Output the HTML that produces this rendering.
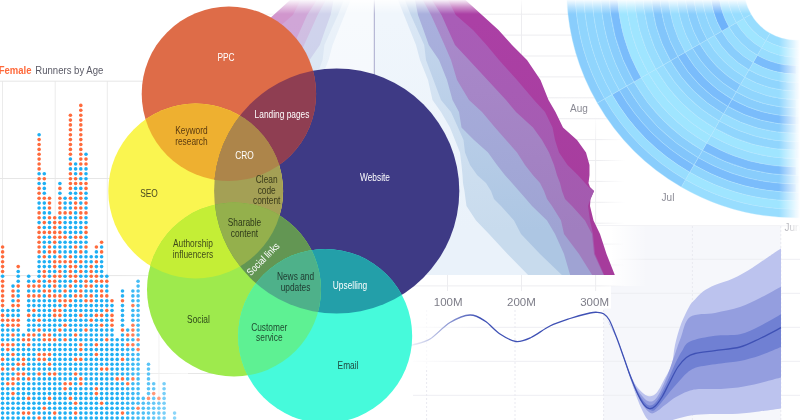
<!DOCTYPE html><html><head><meta charset="utf-8"><title>Charts</title><style>html,body{margin:0;padding:0;background:#fff}body{width:800px;height:420px;overflow:hidden;position:relative;font-family:"Liberation Sans",sans-serif}svg{display:block}text{font-family:"Liberation Sans",sans-serif}</style></head><body>
<svg width="800" height="420" viewBox="0 0 800 420">
<defs>
<linearGradient id="fadeTop" x1="0" y1="0" x2="0" y2="1"><stop offset="0" stop-color="#fff" stop-opacity="0.92"/><stop offset="0.5" stop-color="#fff" stop-opacity="0.42"/><stop offset="1" stop-color="#fff" stop-opacity="0"/></linearGradient>
<linearGradient id="fadeRight" x1="0" y1="0" x2="1" y2="0"><stop offset="0" stop-color="#fff" stop-opacity="0"/><stop offset="1" stop-color="#fff" stop-opacity="1"/></linearGradient>
<linearGradient id="fadeLeft" x1="0" y1="0" x2="1" y2="0"><stop offset="0" stop-color="#fff" stop-opacity="1"/><stop offset="1" stop-color="#fff" stop-opacity="0"/></linearGradient>
<clipPath id="c_ppc"><circle cx="228.9" cy="93.8" r="87.2"/></clipPath>
<clipPath id="c_web"><circle cx="336.7" cy="191" r="122.6"/></clipPath>
<clipPath id="c_seo"><circle cx="195.7" cy="191" r="87.4"/></clipPath>
<clipPath id="c_soc"><circle cx="234" cy="289.5" r="87"/></clipPath>
<clipPath id="c_em"><circle cx="325.2" cy="336" r="87"/></clipPath>
<clipPath id="funclip"><rect x="250" y="0" width="400" height="320"/></clipPath>
<clipPath id="funclip2"><rect x="250" y="0" width="400" height="275"/></clipPath>
<linearGradient id="gridfade" gradientUnits="userSpaceOnUse" x1="250" y1="0" x2="625" y2="0"><stop offset="0" stop-color="#ededf0"/><stop offset="0.93" stop-color="#ededf0"/><stop offset="1" stop-color="#ededf0" stop-opacity="0"/></linearGradient>
<clipPath id="polarclip"><rect x="0" y="0" width="800" height="420"/></clipPath>
</defs>
<rect width="800" height="420" fill="#fff"/>
<g id="linechart">
<rect x="603.5" y="226.5" width="177.5" height="194" fill="#f6f7fb"/>
<line x1="413" y1="225.8" x2="800" y2="225.8" stroke="#eeeef3" stroke-width="1"/>
<line x1="413" y1="259.3" x2="800" y2="259.3" stroke="#eeeef3" stroke-width="1"/>
<line x1="413" y1="293.3" x2="800" y2="293.3" stroke="#eeeef3" stroke-width="1"/>
<line x1="413" y1="327.3" x2="800" y2="327.3" stroke="#eeeef3" stroke-width="1"/>
<line x1="413" y1="361.3" x2="800" y2="361.3" stroke="#eeeef3" stroke-width="1"/>
<line x1="413" y1="395.3" x2="800" y2="395.3" stroke="#eeeef3" stroke-width="1"/>
<line x1="426.6" y1="226" x2="426.6" y2="420" stroke="#e9e9f0" stroke-width="1" stroke-dasharray="2,2"/>
<line x1="515" y1="226" x2="515" y2="420" stroke="#e9e9f0" stroke-width="1" stroke-dasharray="2,2"/>
<line x1="603.6" y1="226" x2="603.6" y2="420" stroke="#e9e9f0" stroke-width="1" stroke-dasharray="2,2"/>
<line x1="692.4" y1="226" x2="692.4" y2="420" stroke="#e9e9f0" stroke-width="1" stroke-dasharray="2,2"/>
<line x1="780.8" y1="226" x2="780.8" y2="420" stroke="#e9e9f0" stroke-width="1" stroke-dasharray="2,2"/>
<path d="M603.6,313.7C605.7,317.5 613.1,329.4 616.4,336.5C619.7,343.6 621.2,349.6 623.6,356.0C626.0,362.4 628.3,369.7 630.7,375.0C633.1,380.3 635.0,384.5 637.9,388.0C640.8,391.5 644.8,395.2 647.9,396.0C651.0,396.8 653.5,396.0 656.4,393.0C659.2,390.0 662.4,382.8 665.0,378.0C667.6,373.2 670.1,370.0 671.8,364.5C673.5,359.0 673.5,351.6 675.0,345.0C676.5,338.4 678.3,331.4 680.7,325.0C683.1,318.6 686.9,310.8 689.3,306.5C691.7,302.2 692.7,302.0 695.0,299.5C697.3,297.0 699.7,293.9 703.0,291.5C706.3,289.1 710.0,287.2 715.0,285.0C720.0,282.8 726.8,281.3 733.0,278.5C739.2,275.7 746.5,271.3 752.0,268.0C757.5,264.7 761.2,261.7 766.0,258.5C770.8,255.3 778.5,250.2 781.0,248.6L781.0,408.4C776.7,409.0 763.1,411.1 755.0,412.0C746.9,412.9 740.0,413.7 732.5,414.0C725.0,414.3 716.8,413.8 710.0,414.0C703.2,414.2 697.7,414.5 692.0,415.3C686.3,416.1 681.0,417.7 676.0,419.0C671.0,420.3 666.5,422.7 662.0,423.0C657.5,423.3 652.8,423.7 649.3,421.0C645.8,418.3 643.8,413.8 640.7,407.0C637.6,400.2 633.6,388.2 630.7,380.0C627.9,371.8 626.0,365.1 623.6,358.0C621.2,350.9 619.7,344.9 616.4,337.5C613.1,330.1 605.7,317.7 603.6,313.7Z" fill="#bcc3ee" fill-opacity="1"/>
<path d="M603.6,313.7C605.7,317.6 613.1,329.7 616.4,336.8C619.7,343.9 621.2,350.0 623.6,356.5C626.0,363.0 628.3,370.3 630.7,376.0C633.1,381.7 635.0,386.3 637.9,390.5C640.8,394.7 644.8,399.8 647.9,401.0C651.0,402.2 653.3,401.8 656.4,398.0C659.5,394.2 663.3,385.3 666.4,378.0C669.5,370.7 672.6,360.7 675.0,354.0C677.4,347.3 678.2,344.2 680.7,338.0C683.2,331.8 684.3,321.2 690.0,317.0C695.7,312.8 706.7,314.6 715.0,312.9C723.3,311.2 732.5,309.5 740.0,307.0C747.5,304.5 753.2,301.4 760.0,298.0C766.8,294.6 777.5,288.6 781.0,286.7L781.0,377.5C778.5,378.1 772.2,379.9 766.0,381.4C759.8,382.9 751.3,385.2 743.8,386.5C736.3,387.8 728.5,388.6 721.0,389.0C713.5,389.4 704.4,388.6 698.8,389.0C693.2,389.4 691.3,390.2 687.5,391.5C683.7,392.8 679.8,394.8 676.0,397.0C672.2,399.2 668.0,402.8 665.0,405.0C662.0,407.2 660.4,409.2 658.0,410.5C655.6,411.8 653.3,414.5 650.4,413.0C647.5,411.5 644.0,407.2 640.7,401.5C637.4,395.8 633.6,385.9 630.7,378.6C627.9,371.3 626.0,364.5 623.6,357.6C621.2,350.7 619.7,344.6 616.4,337.3C613.1,330.0 605.7,317.6 603.6,313.7Z" fill="#949edf" fill-opacity="1"/>
<path d="M603.6,313.7C605.7,317.6 613.1,329.7 616.4,336.9C619.7,344.1 621.2,350.2 623.6,356.8C626.0,363.4 628.3,370.6 630.7,376.6C633.1,382.6 635.0,388.1 637.9,392.8C640.8,397.5 644.8,403.6 647.9,405.0C651.0,406.4 653.3,405.1 656.4,401.5C659.5,397.9 663.3,389.8 666.4,383.5C669.5,377.2 672.4,369.4 675.0,364.0C677.6,358.6 679.5,354.8 682.0,351.0C684.5,347.2 684.5,343.9 690.0,341.4C695.5,338.8 706.7,336.9 715.0,335.7C723.3,334.5 732.5,335.9 740.0,334.3C747.5,332.7 753.2,329.3 760.0,326.0C766.8,322.7 777.5,316.2 781.0,314.3L781.0,347.0C777.5,348.4 766.8,353.2 760.0,355.5C753.2,357.8 746.5,359.7 740.0,361.0C733.5,362.3 727.9,362.4 721.0,363.4C714.1,364.4 704.4,365.3 698.8,366.8C693.2,368.3 691.3,369.4 687.5,372.4C683.7,375.4 679.8,380.5 676.0,384.8C672.2,389.1 668.0,394.4 665.0,398.0C662.0,401.6 660.2,404.4 658.0,406.5C655.8,408.6 654.4,411.7 651.5,410.6C648.6,409.5 644.2,405.5 640.7,400.0C637.2,394.5 633.6,384.9 630.7,377.8C627.9,370.7 626.0,364.1 623.6,357.3C621.2,350.5 619.7,344.4 616.4,337.1C613.1,329.8 605.7,317.6 603.6,313.7Z" fill="#7080d3" fill-opacity="1"/>
<path d="M405.0,347.0C406.2,346.7 408.3,346.3 412.5,345.0C416.7,343.7 423.8,342.8 430.0,339.0C436.2,335.2 443.3,326.5 450.0,322.5C456.7,318.5 464.2,315.2 470.0,315.0C475.8,314.8 480.0,317.8 485.0,321.0C490.0,324.2 494.8,330.6 500.0,334.0C505.2,337.4 510.8,340.9 516.0,341.5C521.2,342.1 525.3,340.1 531.0,337.5C536.7,334.9 543.5,329.2 550.0,326.0C556.5,322.8 563.3,320.7 570.0,318.5C576.7,316.3 585.5,314.0 590.0,313.0C594.5,312.0 594.7,312.2 597.0,312.3C599.3,312.4 601.6,312.4 603.6,313.7C605.6,315.0 607.2,316.1 609.3,320.0C611.4,323.9 614.0,330.8 616.4,337.0C618.8,343.2 621.2,350.3 623.6,357.0C626.0,363.7 628.3,370.8 630.7,377.0C633.1,383.2 635.8,389.8 637.9,394.3C640.0,398.9 641.7,401.9 643.6,404.3C645.5,406.7 647.4,408.3 649.3,408.6C651.2,408.9 652.9,408.2 655.0,406.3C657.1,404.4 659.6,400.9 662.0,397.0C664.4,393.1 666.6,388.0 669.3,383.0C671.9,378.0 675.0,371.2 677.9,367.0C680.8,362.8 683.5,359.8 686.4,357.5C689.2,355.2 690.2,354.6 695.0,353.5C699.8,352.4 707.5,351.7 715.0,350.6C722.5,349.5 732.5,349.0 740.0,347.0C747.5,345.0 753.2,341.7 760.0,338.5C766.8,335.3 777.5,329.5 781.0,327.7" fill="none" stroke="#3f51b5" stroke-width="1.3"/>
<rect x="405" y="300" width="75" height="70" fill="url(#fadeLeft)"/>
</g>
<g id="funnel" clip-path="url(#funclip)">
<rect x="413" y="226" width="198" height="82.5" fill="#fff"/>
<rect x="611" y="226" width="36" height="60" fill="url(#fadeLeft)"/>
<rect x="250" y="13.7" width="375" height="1" fill="url(#gridfade)"/>
<rect x="250" y="34.6" width="375" height="1" fill="url(#gridfade)"/>
<rect x="250" y="55.5" width="375" height="1" fill="url(#gridfade)"/>
<rect x="250" y="76.4" width="375" height="1" fill="url(#gridfade)"/>
<rect x="250" y="97.3" width="375" height="1" fill="url(#gridfade)"/>
<rect x="250" y="118.2" width="375" height="1" fill="url(#gridfade)"/>
<rect x="250" y="139.1" width="375" height="1" fill="url(#gridfade)"/>
<rect x="250" y="160.0" width="375" height="1" fill="url(#gridfade)"/>
<rect x="250" y="180.9" width="375" height="1" fill="url(#gridfade)"/>
<rect x="250" y="201.8" width="375" height="1" fill="url(#gridfade)"/>
<rect x="250" y="222.7" width="375" height="1" fill="url(#gridfade)"/>
<rect x="250" y="243.6" width="375" height="1" fill="url(#gridfade)"/>
<rect x="250" y="264.5" width="375" height="1" fill="url(#gridfade)"/>
<rect x="250" y="285.4" width="375" height="1" fill="url(#gridfade)"/>
<linearGradient id="vfade" gradientUnits="userSpaceOnUse" x1="0" y1="115" x2="0" y2="145"><stop offset="0" stop-color="#ededf0" stop-opacity="0"/><stop offset="1" stop-color="#ededf0"/></linearGradient>
<line x1="447.5" y1="0" x2="447.5" y2="291" stroke="#ededf0" stroke-width="1"/>
<line x1="521.5" y1="0" x2="521.5" y2="291" stroke="#ededf0" stroke-width="1"/>
<rect x="595.1" y="115" width="1" height="176" fill="url(#vfade)"/>
<defs><linearGradient id="fl0" gradientUnits="userSpaceOnUse" x1="0" y1="20" x2="0" y2="230"><stop offset="0" stop-color="#f0f6fc"/><stop offset="1" stop-color="#eaf2fa"/></linearGradient><linearGradient id="fl1" gradientUnits="userSpaceOnUse" x1="0" y1="20" x2="0" y2="230"><stop offset="0" stop-color="#dae7f5"/><stop offset="1" stop-color="#c8dbed"/></linearGradient><linearGradient id="fl2" gradientUnits="userSpaceOnUse" x1="0" y1="20" x2="0" y2="230"><stop offset="0" stop-color="#c4d6ec"/><stop offset="1" stop-color="#adc6e3"/></linearGradient><linearGradient id="fl3" gradientUnits="userSpaceOnUse" x1="0" y1="20" x2="0" y2="230"><stop offset="0" stop-color="#a9b0dd"/><stop offset="1" stop-color="#9fa3d3"/></linearGradient><linearGradient id="fl4" gradientUnits="userSpaceOnUse" x1="0" y1="20" x2="0" y2="230"><stop offset="0" stop-color="#a98acb"/><stop offset="1" stop-color="#a07ebf"/></linearGradient><linearGradient id="fl5" gradientUnits="userSpaceOnUse" x1="0" y1="20" x2="0" y2="230"><stop offset="0" stop-color="#a95db7"/><stop offset="1" stop-color="#a35aae"/></linearGradient><linearGradient id="fl6" gradientUnits="userSpaceOnUse" x1="0" y1="20" x2="0" y2="230"><stop offset="0" stop-color="#ab40a5"/><stop offset="1" stop-color="#a63c9c"/></linearGradient></defs>
<path d="M465.5,0.0 L482.0,15.0 L498.5,30.0 L512.0,45.0 L527.0,60.0 L540.5,80.0 L548.5,100.0 L555.5,112.0 L563.0,127.5 L577.0,140.0 L586.0,152.6 L589.5,165.0 L589.5,175.2 L588.5,183.0 L590.0,187.0 L594.0,191.0 L590.5,199.0 L590.0,206.0 L593.5,220.5 L600.0,234.0 L606.5,254.0 L616.0,278.0 L132.6,278.0 L142.1,254.0 L148.6,234.0 L155.1,220.5 L158.6,206.0 L158.1,199.0 L154.6,191.0 L158.6,187.0 L160.1,183.0 L159.1,175.2 L159.1,165.0 L162.6,152.6 L171.6,140.0 L185.6,127.5 L193.1,112.0 L200.1,100.0 L208.1,80.0 L221.6,60.0 L243.6,45.0 L257.1,30.0 L273.6,15.0 L290.1,0.0Z" fill="url(#fl6)" clip-path="url(#funclip2)"/>
<path d="M448.0,0.0 L455.8,15.0 L473.0,30.0 L486.5,45.0 L499.0,60.0 L517.0,80.0 L534.0,100.0 L545.0,112.0 L552.5,127.5 L555.0,140.0 L559.0,152.6 L567.5,165.0 L578.0,175.2 L585.0,183.0 L588.5,187.0 L594.0,191.0 L590.5,199.0 L588.0,206.0 L590.0,220.5 L593.0,234.0 L595.0,254.0 L605.5,278.0 L143.1,278.0 L153.6,254.0 L155.6,234.0 L158.6,220.5 L160.6,206.0 L158.1,199.0 L154.6,191.0 L160.1,187.0 L163.6,183.0 L170.6,175.2 L181.1,165.0 L189.6,152.6 L193.6,140.0 L196.1,127.5 L203.6,112.0 L214.6,100.0 L231.6,80.0 L249.6,60.0 L262.1,45.0 L275.6,30.0 L292.9,15.0 L300.6,0.0Z" fill="url(#fl5)" clip-path="url(#funclip2)"/>
<path d="M431.8,0.0 L441.5,15.0 L448.2,30.0 L455.0,45.0 L469.0,60.0 L487.5,80.0 L506.0,100.0 L516.0,112.0 L533.0,127.5 L542.0,140.0 L549.0,152.6 L554.0,165.0 L557.0,175.2 L560.0,183.0 L561.0,187.0 L562.0,191.0 L565.0,199.0 L572.0,206.0 L585.0,220.5 L592.0,234.0 L594.0,254.0 L605.0,278.0 L143.6,278.0 L154.6,254.0 L156.6,234.0 L163.6,220.5 L176.6,206.0 L183.6,199.0 L186.6,191.0 L187.6,187.0 L188.6,183.0 L191.6,175.2 L194.6,165.0 L199.6,152.6 L206.6,140.0 L215.6,127.5 L232.6,112.0 L242.6,100.0 L261.1,80.0 L279.6,60.0 L293.6,45.0 L300.4,30.0 L307.1,15.0 L316.9,0.0Z" fill="url(#fl4)" clip-path="url(#funclip2)"/>
<path d="M422.8,0.0 L431.0,15.0 L437.8,30.0 L444.5,45.0 L451.0,60.0 L457.0,80.0 L469.0,100.0 L482.0,112.0 L495.0,127.5 L506.0,140.0 L517.0,152.6 L525.0,165.0 L533.0,175.2 L540.0,183.0 L542.0,187.0 L544.0,191.0 L547.0,199.0 L552.0,206.0 L561.0,220.5 L564.0,234.0 L579.0,254.0 L594.0,278.0 L154.6,278.0 L169.6,254.0 L184.6,234.0 L187.6,220.5 L196.6,206.0 L201.6,199.0 L204.6,191.0 L206.6,187.0 L208.6,183.0 L215.6,175.2 L223.6,165.0 L231.6,152.6 L242.6,140.0 L253.6,127.5 L266.6,112.0 L279.6,100.0 L291.6,80.0 L297.6,60.0 L304.1,45.0 L310.9,30.0 L317.6,15.0 L325.9,0.0Z" fill="url(#fl3)" clip-path="url(#funclip2)"/>
<path d="M415.0,0.0 L418.0,15.0 L423.5,30.0 L428.8,45.0 L439.0,60.0 L447.0,80.0 L452.5,100.0 L459.0,112.0 L461.5,127.5 L474.0,140.0 L488.0,152.6 L497.0,165.0 L505.0,175.2 L512.0,183.0 L515.5,187.0 L519.0,191.0 L526.0,199.0 L532.0,206.0 L547.0,220.5 L555.0,234.0 L564.0,254.0 L571.0,278.0 L177.6,278.0 L184.6,254.0 L193.6,234.0 L201.6,220.5 L216.6,206.0 L222.6,199.0 L229.6,191.0 L233.1,187.0 L236.6,183.0 L243.6,175.2 L251.6,165.0 L260.6,152.6 L274.6,140.0 L287.1,127.5 L289.6,112.0 L296.1,100.0 L301.6,80.0 L309.6,60.0 L319.9,45.0 L325.1,30.0 L330.6,15.0 L333.6,0.0Z" fill="url(#fl2)" clip-path="url(#funclip2)"/>
<path d="M404.8,0.0 L410.8,15.0 L417.5,30.0 L424.2,45.0 L426.0,60.0 L433.5,80.0 L441.0,100.0 L451.0,112.0 L458.0,127.5 L463.5,140.0 L465.0,152.6 L470.0,165.0 L477.3,175.2 L486.0,183.0 L488.5,187.0 L491.0,191.0 L494.0,199.0 L501.0,206.0 L514.0,220.5 L521.0,234.0 L540.0,254.0 L565.0,278.0 L183.6,278.0 L208.6,254.0 L227.6,234.0 L234.6,220.5 L247.6,206.0 L254.6,199.0 L257.6,191.0 L260.1,187.0 L262.6,183.0 L271.3,175.2 L278.6,165.0 L283.6,152.6 L285.1,140.0 L290.6,127.5 L297.6,112.0 L307.6,100.0 L315.1,80.0 L322.6,60.0 L324.4,45.0 L331.1,30.0 L337.9,15.0 L343.9,0.0Z" fill="url(#fl1)" clip-path="url(#funclip2)"/>
<path d="M398.0,0.0 L404.0,15.0 L410.0,30.0 L416.0,45.0 L420.0,60.0 L428.0,80.0 L432.5,100.0 L441.0,112.0 L450.0,127.5 L455.0,140.0 L460.0,152.6 L461.5,165.0 L462.5,175.2 L463.0,183.0 L463.7,187.0 L464.5,191.0 L465.5,199.0 L466.5,206.0 L476.0,220.5 L489.0,234.0 L507.5,254.0 L531.0,278.0 L217.6,278.0 L241.1,254.0 L259.6,234.0 L272.6,220.5 L282.1,206.0 L283.1,199.0 L284.1,191.0 L284.9,187.0 L285.6,183.0 L286.1,175.2 L287.1,165.0 L288.6,152.6 L293.6,140.0 L298.6,127.5 L307.6,112.0 L316.1,100.0 L320.6,80.0 L328.6,60.0 L332.6,45.0 L338.6,30.0 L344.6,15.0 L350.6,0.0Z" fill="url(#fl0)" clip-path="url(#funclip2)"/>
<rect x="240" y="0" width="134.3" height="276" fill="#fff" fill-opacity="0.45"/>
<line x1="374.3" y1="0" x2="374.3" y2="276" stroke="#a9a9cc" stroke-width="1"/>
<rect x="240" y="0" width="400" height="14" fill="url(#fadeTop)"/>
<text x="448.2" y="306.3" font-size="11.5" fill="#7d7d88" text-anchor="middle">100M</text>
<text x="521.4" y="306.3" font-size="11.5" fill="#7d7d88" text-anchor="middle">200M</text>
<text x="594.6" y="306.3" font-size="11.5" fill="#7d7d88" text-anchor="middle">300M</text>
</g>
<g id="polar">
<path d="M826.2,40.6A60.4,60.4 0 0 1 796.0,48.7L796.0,40.3A52.0,52.0 0 0 0 822.0,33.3Z" fill="#98ddfe" stroke="#b8e8ff" stroke-width="0.35"/>
<path d="M830.4,48.0A68.9,68.9 0 0 1 796.0,57.2L796.0,48.7A60.4,60.4 0 0 0 826.2,40.6Z" fill="#98ddfe" stroke="#b8e8ff" stroke-width="0.35"/>
<path d="M834.7,55.3A77.3,77.3 0 0 1 796.0,65.6L796.0,57.2A68.9,68.9 0 0 0 830.4,48.0Z" fill="#98ddfe" stroke="#b8e8ff" stroke-width="0.35"/>
<path d="M838.9,62.6A85.8,85.8 0 0 1 796.0,74.1L796.0,65.6A77.3,77.3 0 0 0 834.7,55.3Z" fill="#90d5fd" stroke="#b8e8ff" stroke-width="0.35"/>
<path d="M843.1,69.9A94.2,94.2 0 0 1 796.0,82.5L796.0,74.1A85.8,85.8 0 0 0 838.9,62.6Z" fill="#98ddfe" stroke="#b8e8ff" stroke-width="0.35"/>
<path d="M847.3,77.2A102.7,102.7 0 0 1 796.0,91.0L796.0,82.5A94.2,94.2 0 0 0 843.1,69.9Z" fill="#89cdfc" stroke="#b8e8ff" stroke-width="0.35"/>
<path d="M851.6,84.5A111.1,111.1 0 0 1 796.0,99.4L796.0,91.0A102.7,102.7 0 0 0 847.3,77.2Z" fill="#90d5fd" stroke="#b8e8ff" stroke-width="0.35"/>
<path d="M855.8,91.9A119.6,119.6 0 0 1 796.0,107.9L796.0,99.4A111.1,111.1 0 0 0 851.6,84.5Z" fill="#9fe5ff" stroke="#b8e8ff" stroke-width="0.35"/>
<path d="M860.0,99.2A128.0,128.0 0 0 1 796.0,116.3L796.0,107.9A119.6,119.6 0 0 0 855.8,91.9Z" fill="#98ddfe" stroke="#b8e8ff" stroke-width="0.35"/>
<path d="M864.2,106.5A136.5,136.5 0 0 1 796.0,124.8L796.0,116.3A128.0,128.0 0 0 0 860.0,99.2Z" fill="#82c5fb" stroke="#b8e8ff" stroke-width="0.35"/>
<path d="M868.5,113.8A144.9,144.9 0 0 1 796.0,133.2L796.0,124.8A136.5,136.5 0 0 0 864.2,106.5Z" fill="#90d5fd" stroke="#b8e8ff" stroke-width="0.35"/>
<path d="M872.7,121.1A153.4,153.4 0 0 1 796.0,141.7L796.0,133.2A144.9,144.9 0 0 0 868.5,113.8Z" fill="#98ddfe" stroke="#b8e8ff" stroke-width="0.35"/>
<path d="M876.9,128.4A161.8,161.8 0 0 1 796.0,150.1L796.0,141.7A153.4,153.4 0 0 0 872.7,121.1Z" fill="#89cdfc" stroke="#b8e8ff" stroke-width="0.35"/>
<path d="M881.1,135.8A170.3,170.3 0 0 1 796.0,158.6L796.0,150.1A161.8,161.8 0 0 0 876.9,128.4Z" fill="#90d5fd" stroke="#b8e8ff" stroke-width="0.35"/>
<path d="M885.4,143.1A178.7,178.7 0 0 1 796.0,167.0L796.0,158.6A170.3,170.3 0 0 0 881.1,135.8Z" fill="#9fe5ff" stroke="#b8e8ff" stroke-width="0.35"/>
<path d="M889.6,150.4A187.2,187.2 0 0 1 796.0,175.5L796.0,167.0A178.7,178.7 0 0 0 885.4,143.1Z" fill="#98ddfe" stroke="#b8e8ff" stroke-width="0.35"/>
<path d="M893.8,157.7A195.6,195.6 0 0 1 796.0,183.9L796.0,175.5A187.2,187.2 0 0 0 889.6,150.4Z" fill="#82c5fb" stroke="#b8e8ff" stroke-width="0.35"/>
<path d="M898.0,165.0A204.1,204.1 0 0 1 796.0,192.4L796.0,183.9A195.6,195.6 0 0 0 893.8,157.7Z" fill="#90d5fd" stroke="#b8e8ff" stroke-width="0.35"/>
<path d="M902.3,172.3A212.5,212.5 0 0 1 796.0,200.8L796.0,192.4A204.1,204.1 0 0 0 898.0,165.0Z" fill="#89cdfc" stroke="#b8e8ff" stroke-width="0.35"/>
<path d="M906.5,179.7A221.0,221.0 0 0 1 796.0,209.3L796.0,200.8A212.5,212.5 0 0 0 902.3,172.3Z" fill="#98ddfe" stroke="#b8e8ff" stroke-width="0.35"/>
<path d="M910.7,187.0A229.4,229.4 0 0 1 796.0,217.7L796.0,209.3A221.0,221.0 0 0 0 906.5,179.7Z" fill="#90d5fd" stroke="#b8e8ff" stroke-width="0.35"/>
<path d="M796.0,48.7A60.4,60.4 0 0 1 765.8,40.6L770.0,33.3A52.0,52.0 0 0 0 796.0,40.3Z" fill="#98ddfe" stroke="#b8e8ff" stroke-width="0.35"/>
<path d="M796.0,57.2A68.9,68.9 0 0 1 761.6,48.0L765.8,40.6A60.4,60.4 0 0 0 796.0,48.7Z" fill="#9fe5ff" stroke="#b8e8ff" stroke-width="0.35"/>
<path d="M796.0,65.6A77.3,77.3 0 0 1 757.3,55.3L761.6,48.0A68.9,68.9 0 0 0 796.0,57.2Z" fill="#98ddfe" stroke="#b8e8ff" stroke-width="0.35"/>
<path d="M796.0,74.1A85.8,85.8 0 0 1 753.1,62.6L757.3,55.3A77.3,77.3 0 0 0 796.0,65.6Z" fill="#7abcfb" stroke="#b8e8ff" stroke-width="0.35"/>
<path d="M796.0,82.5A94.2,94.2 0 0 1 748.9,69.9L753.1,62.6A85.8,85.8 0 0 0 796.0,74.1Z" fill="#98ddfe" stroke="#b8e8ff" stroke-width="0.35"/>
<path d="M796.0,91.0A102.7,102.7 0 0 1 744.7,77.2L748.9,69.9A94.2,94.2 0 0 0 796.0,82.5Z" fill="#90d5fd" stroke="#b8e8ff" stroke-width="0.35"/>
<path d="M796.0,99.4A111.1,111.1 0 0 1 740.4,84.5L744.7,77.2A102.7,102.7 0 0 0 796.0,91.0Z" fill="#98ddfe" stroke="#b8e8ff" stroke-width="0.35"/>
<path d="M796.0,107.9A119.6,119.6 0 0 1 736.2,91.9L740.4,84.5A111.1,111.1 0 0 0 796.0,99.4Z" fill="#90d5fd" stroke="#b8e8ff" stroke-width="0.35"/>
<path d="M796.0,116.3A128.0,128.0 0 0 1 732.0,99.2L736.2,91.9A119.6,119.6 0 0 0 796.0,107.9Z" fill="#89cdfc" stroke="#b8e8ff" stroke-width="0.35"/>
<path d="M796.0,124.8A136.5,136.5 0 0 1 727.8,106.5L732.0,99.2A128.0,128.0 0 0 0 796.0,116.3Z" fill="#7abcfb" stroke="#b8e8ff" stroke-width="0.35"/>
<path d="M796.0,133.2A144.9,144.9 0 0 1 723.5,113.8L727.8,106.5A136.5,136.5 0 0 0 796.0,124.8Z" fill="#89cdfc" stroke="#b8e8ff" stroke-width="0.35"/>
<path d="M796.0,141.7A153.4,153.4 0 0 1 719.3,121.1L723.5,113.8A144.9,144.9 0 0 0 796.0,133.2Z" fill="#98ddfe" stroke="#b8e8ff" stroke-width="0.35"/>
<path d="M796.0,150.1A161.8,161.8 0 0 1 715.1,128.4L719.3,121.1A153.4,153.4 0 0 0 796.0,141.7Z" fill="#90d5fd" stroke="#b8e8ff" stroke-width="0.35"/>
<path d="M796.0,158.6A170.3,170.3 0 0 1 710.9,135.8L715.1,128.4A161.8,161.8 0 0 0 796.0,150.1Z" fill="#9fe5ff" stroke="#b8e8ff" stroke-width="0.35"/>
<path d="M796.0,167.0A178.7,178.7 0 0 1 706.6,143.1L710.9,135.8A170.3,170.3 0 0 0 796.0,158.6Z" fill="#98ddfe" stroke="#b8e8ff" stroke-width="0.35"/>
<path d="M796.0,175.5A187.2,187.2 0 0 1 702.4,150.4L706.6,143.1A178.7,178.7 0 0 0 796.0,167.0Z" fill="#7abcfb" stroke="#b8e8ff" stroke-width="0.35"/>
<path d="M796.0,183.9A195.6,195.6 0 0 1 698.2,157.7L702.4,150.4A187.2,187.2 0 0 0 796.0,175.5Z" fill="#89cdfc" stroke="#b8e8ff" stroke-width="0.35"/>
<path d="M796.0,192.4A204.1,204.1 0 0 1 694.0,165.0L698.2,157.7A195.6,195.6 0 0 0 796.0,183.9Z" fill="#7abcfb" stroke="#b8e8ff" stroke-width="0.35"/>
<path d="M796.0,200.8A212.5,212.5 0 0 1 689.7,172.3L694.0,165.0A204.1,204.1 0 0 0 796.0,192.4Z" fill="#90d5fd" stroke="#b8e8ff" stroke-width="0.35"/>
<path d="M796.0,209.3A221.0,221.0 0 0 1 685.5,179.7L689.7,172.3A212.5,212.5 0 0 0 796.0,200.8Z" fill="#9fe5ff" stroke="#b8e8ff" stroke-width="0.35"/>
<path d="M796.0,217.7A229.4,229.4 0 0 1 681.3,187.0L685.5,179.7A221.0,221.0 0 0 0 796.0,209.3Z" fill="#98ddfe" stroke="#b8e8ff" stroke-width="0.35"/>
<path d="M765.8,40.6A60.4,60.4 0 0 1 743.7,18.5L751.0,14.3A52.0,52.0 0 0 0 770.0,33.3Z" fill="#98ddfe" stroke="#b8e8ff" stroke-width="0.35"/>
<path d="M761.6,48.0A68.9,68.9 0 0 1 736.3,22.7L743.7,18.5A60.4,60.4 0 0 0 765.8,40.6Z" fill="#9fe5ff" stroke="#b8e8ff" stroke-width="0.35"/>
<path d="M757.3,55.3A77.3,77.3 0 0 1 729.0,27.0L736.3,22.7A68.9,68.9 0 0 0 761.6,48.0Z" fill="#90d5fd" stroke="#b8e8ff" stroke-width="0.35"/>
<path d="M753.1,62.6A85.8,85.8 0 0 1 721.7,31.2L729.0,27.0A77.3,77.3 0 0 0 757.3,55.3Z" fill="#98ddfe" stroke="#b8e8ff" stroke-width="0.35"/>
<path d="M748.9,69.9A94.2,94.2 0 0 1 714.4,35.4L721.7,31.2A85.8,85.8 0 0 0 753.1,62.6Z" fill="#89cdfc" stroke="#b8e8ff" stroke-width="0.35"/>
<path d="M744.7,77.2A102.7,102.7 0 0 1 707.1,39.6L714.4,35.4A94.2,94.2 0 0 0 748.9,69.9Z" fill="#98ddfe" stroke="#b8e8ff" stroke-width="0.35"/>
<path d="M740.4,84.5A111.1,111.1 0 0 1 699.8,43.9L707.1,39.6A102.7,102.7 0 0 0 744.7,77.2Z" fill="#90d5fd" stroke="#b8e8ff" stroke-width="0.35"/>
<path d="M736.2,91.9A119.6,119.6 0 0 1 692.4,48.1L699.8,43.9A111.1,111.1 0 0 0 740.4,84.5Z" fill="#82c5fb" stroke="#b8e8ff" stroke-width="0.35"/>
<path d="M732.0,99.2A128.0,128.0 0 0 1 685.1,52.3L692.4,48.1A119.6,119.6 0 0 0 736.2,91.9Z" fill="#89cdfc" stroke="#b8e8ff" stroke-width="0.35"/>
<path d="M727.8,106.5A136.5,136.5 0 0 1 677.8,56.5L685.1,52.3A128.0,128.0 0 0 0 732.0,99.2Z" fill="#7abcfb" stroke="#b8e8ff" stroke-width="0.35"/>
<path d="M723.5,113.8A144.9,144.9 0 0 1 670.5,60.8L677.8,56.5A136.5,136.5 0 0 0 727.8,106.5Z" fill="#82c5fb" stroke="#b8e8ff" stroke-width="0.35"/>
<path d="M719.3,121.1A153.4,153.4 0 0 1 663.2,65.0L670.5,60.8A144.9,144.9 0 0 0 723.5,113.8Z" fill="#90d5fd" stroke="#b8e8ff" stroke-width="0.35"/>
<path d="M715.1,128.4A161.8,161.8 0 0 1 655.9,69.2L663.2,65.0A153.4,153.4 0 0 0 719.3,121.1Z" fill="#98ddfe" stroke="#b8e8ff" stroke-width="0.35"/>
<path d="M710.9,135.8A170.3,170.3 0 0 1 648.5,73.4L655.9,69.2A161.8,161.8 0 0 0 715.1,128.4Z" fill="#9fe5ff" stroke="#b8e8ff" stroke-width="0.35"/>
<path d="M706.6,143.1A178.7,178.7 0 0 1 641.2,77.7L648.5,73.4A170.3,170.3 0 0 0 710.9,135.8Z" fill="#9fe5ff" stroke="#b8e8ff" stroke-width="0.35"/>
<path d="M702.4,150.4A187.2,187.2 0 0 1 633.9,81.9L641.2,77.7A178.7,178.7 0 0 0 706.6,143.1Z" fill="#98ddfe" stroke="#b8e8ff" stroke-width="0.35"/>
<path d="M698.2,157.7A195.6,195.6 0 0 1 626.6,86.1L633.9,81.9A187.2,187.2 0 0 0 702.4,150.4Z" fill="#89cdfc" stroke="#b8e8ff" stroke-width="0.35"/>
<path d="M694.0,165.0A204.1,204.1 0 0 1 619.3,90.3L626.6,86.1A195.6,195.6 0 0 0 698.2,157.7Z" fill="#82c5fb" stroke="#b8e8ff" stroke-width="0.35"/>
<path d="M689.7,172.3A212.5,212.5 0 0 1 612.0,94.6L619.3,90.3A204.1,204.1 0 0 0 694.0,165.0Z" fill="#7abcfb" stroke="#b8e8ff" stroke-width="0.35"/>
<path d="M685.5,179.7A221.0,221.0 0 0 1 604.6,98.8L612.0,94.6A212.5,212.5 0 0 0 689.7,172.3Z" fill="#98ddfe" stroke="#b8e8ff" stroke-width="0.35"/>
<path d="M681.3,187.0A229.4,229.4 0 0 1 597.3,103.0L604.6,98.8A221.0,221.0 0 0 0 685.5,179.7Z" fill="#89cdfc" stroke="#b8e8ff" stroke-width="0.35"/>
<path d="M743.7,18.5A60.4,60.4 0 0 1 735.6,-11.7L744.0,-11.7A52.0,52.0 0 0 0 751.0,14.3Z" fill="#98ddfe" stroke="#b8e8ff" stroke-width="0.35"/>
<path d="M736.3,22.7A68.9,68.9 0 0 1 727.1,-11.7L735.6,-11.7A60.4,60.4 0 0 0 743.7,18.5Z" fill="#98ddfe" stroke="#b8e8ff" stroke-width="0.35"/>
<path d="M729.0,27.0A77.3,77.3 0 0 1 718.7,-11.7L727.1,-11.7A68.9,68.9 0 0 0 736.3,22.7Z" fill="#98ddfe" stroke="#b8e8ff" stroke-width="0.35"/>
<path d="M721.7,31.2A85.8,85.8 0 0 1 710.2,-11.7L718.7,-11.7A77.3,77.3 0 0 0 729.0,27.0Z" fill="#6fb2fa" stroke="#b8e8ff" stroke-width="0.35"/>
<path d="M714.4,35.4A94.2,94.2 0 0 1 701.8,-11.7L710.2,-11.7A85.8,85.8 0 0 0 721.7,31.2Z" fill="#90d5fd" stroke="#b8e8ff" stroke-width="0.35"/>
<path d="M707.1,39.6A102.7,102.7 0 0 1 693.3,-11.7L701.8,-11.7A94.2,94.2 0 0 0 714.4,35.4Z" fill="#90d5fd" stroke="#b8e8ff" stroke-width="0.35"/>
<path d="M699.8,43.9A111.1,111.1 0 0 1 684.9,-11.7L693.3,-11.7A102.7,102.7 0 0 0 707.1,39.6Z" fill="#89cdfc" stroke="#b8e8ff" stroke-width="0.35"/>
<path d="M692.4,48.1A119.6,119.6 0 0 1 676.4,-11.7L684.9,-11.7A111.1,111.1 0 0 0 699.8,43.9Z" fill="#90d5fd" stroke="#b8e8ff" stroke-width="0.35"/>
<path d="M685.1,52.3A128.0,128.0 0 0 1 668.0,-11.7L676.4,-11.7A119.6,119.6 0 0 0 692.4,48.1Z" fill="#98ddfe" stroke="#b8e8ff" stroke-width="0.35"/>
<path d="M677.8,56.5A136.5,136.5 0 0 1 659.5,-11.7L668.0,-11.7A128.0,128.0 0 0 0 685.1,52.3Z" fill="#89cdfc" stroke="#b8e8ff" stroke-width="0.35"/>
<path d="M670.5,60.8A144.9,144.9 0 0 1 651.1,-11.7L659.5,-11.7A136.5,136.5 0 0 0 677.8,56.5Z" fill="#82c5fb" stroke="#b8e8ff" stroke-width="0.35"/>
<path d="M663.2,65.0A153.4,153.4 0 0 1 642.6,-11.7L651.1,-11.7A144.9,144.9 0 0 0 670.5,60.8Z" fill="#90d5fd" stroke="#b8e8ff" stroke-width="0.35"/>
<path d="M655.9,69.2A161.8,161.8 0 0 1 634.2,-11.7L642.6,-11.7A153.4,153.4 0 0 0 663.2,65.0Z" fill="#98ddfe" stroke="#b8e8ff" stroke-width="0.35"/>
<path d="M648.5,73.4A170.3,170.3 0 0 1 625.7,-11.7L634.2,-11.7A161.8,161.8 0 0 0 655.9,69.2Z" fill="#9fe5ff" stroke="#b8e8ff" stroke-width="0.35"/>
<path d="M641.2,77.7A178.7,178.7 0 0 1 617.3,-11.7L625.7,-11.7A170.3,170.3 0 0 0 648.5,73.4Z" fill="#9fe5ff" stroke="#b8e8ff" stroke-width="0.35"/>
<path d="M633.9,81.9A187.2,187.2 0 0 1 608.8,-11.7L617.3,-11.7A178.7,178.7 0 0 0 641.2,77.7Z" fill="#7abcfb" stroke="#b8e8ff" stroke-width="0.35"/>
<path d="M626.6,86.1A195.6,195.6 0 0 1 600.4,-11.7L608.8,-11.7A187.2,187.2 0 0 0 633.9,81.9Z" fill="#89cdfc" stroke="#b8e8ff" stroke-width="0.35"/>
<path d="M619.3,90.3A204.1,204.1 0 0 1 591.9,-11.7L600.4,-11.7A195.6,195.6 0 0 0 626.6,86.1Z" fill="#90d5fd" stroke="#b8e8ff" stroke-width="0.35"/>
<path d="M612.0,94.6A212.5,212.5 0 0 1 583.5,-11.7L591.9,-11.7A204.1,204.1 0 0 0 619.3,90.3Z" fill="#90d5fd" stroke="#b8e8ff" stroke-width="0.35"/>
<path d="M604.6,98.8A221.0,221.0 0 0 1 575.0,-11.7L583.5,-11.7A212.5,212.5 0 0 0 612.0,94.6Z" fill="#90d5fd" stroke="#b8e8ff" stroke-width="0.35"/>
<path d="M597.3,103.0A229.4,229.4 0 0 1 566.6,-11.7L575.0,-11.7A221.0,221.0 0 0 0 604.6,98.8Z" fill="#89cdfc" stroke="#b8e8ff" stroke-width="0.35"/>
<path d="M735.6,-11.7A60.4,60.4 0 0 1 743.7,-41.9L751.0,-37.7A52.0,52.0 0 0 0 744.0,-11.7Z" fill="#98ddfe" stroke="#b8e8ff" stroke-width="0.35"/>
<path d="M727.1,-11.7A68.9,68.9 0 0 1 736.3,-46.1L743.7,-41.9A60.4,60.4 0 0 0 735.6,-11.7Z" fill="#98ddfe" stroke="#b8e8ff" stroke-width="0.35"/>
<path d="M718.7,-11.7A77.3,77.3 0 0 1 729.0,-50.4L736.3,-46.1A68.9,68.9 0 0 0 727.1,-11.7Z" fill="#90d5fd" stroke="#b8e8ff" stroke-width="0.35"/>
<path d="M710.2,-11.7A85.8,85.8 0 0 1 721.7,-54.6L729.0,-50.4A77.3,77.3 0 0 0 718.7,-11.7Z" fill="#98ddfe" stroke="#b8e8ff" stroke-width="0.35"/>
<path d="M701.8,-11.7A94.2,94.2 0 0 1 714.4,-58.8L721.7,-54.6A85.8,85.8 0 0 0 710.2,-11.7Z" fill="#89cdfc" stroke="#b8e8ff" stroke-width="0.35"/>
<path d="M693.3,-11.7A102.7,102.7 0 0 1 707.1,-63.0L714.4,-58.8A94.2,94.2 0 0 0 701.8,-11.7Z" fill="#90d5fd" stroke="#b8e8ff" stroke-width="0.35"/>
<path d="M684.9,-11.7A111.1,111.1 0 0 1 699.8,-67.3L707.1,-63.0A102.7,102.7 0 0 0 693.3,-11.7Z" fill="#98ddfe" stroke="#b8e8ff" stroke-width="0.35"/>
<path d="M676.4,-11.7A119.6,119.6 0 0 1 692.4,-71.5L699.8,-67.3A111.1,111.1 0 0 0 684.9,-11.7Z" fill="#90d5fd" stroke="#b8e8ff" stroke-width="0.35"/>
<path d="M668.0,-11.7A128.0,128.0 0 0 1 685.1,-75.7L692.4,-71.5A119.6,119.6 0 0 0 676.4,-11.7Z" fill="#89cdfc" stroke="#b8e8ff" stroke-width="0.35"/>
<path d="M659.5,-11.7A136.5,136.5 0 0 1 677.8,-79.9L685.1,-75.7A128.0,128.0 0 0 0 668.0,-11.7Z" fill="#98ddfe" stroke="#b8e8ff" stroke-width="0.35"/>
<path d="M651.1,-11.7A144.9,144.9 0 0 1 670.5,-84.2L677.8,-79.9A136.5,136.5 0 0 0 659.5,-11.7Z" fill="#90d5fd" stroke="#b8e8ff" stroke-width="0.35"/>
<path d="M642.6,-11.7A153.4,153.4 0 0 1 663.2,-88.4L670.5,-84.2A144.9,144.9 0 0 0 651.1,-11.7Z" fill="#89cdfc" stroke="#b8e8ff" stroke-width="0.35"/>
<path d="M634.2,-11.7A161.8,161.8 0 0 1 655.9,-92.6L663.2,-88.4A153.4,153.4 0 0 0 642.6,-11.7Z" fill="#90d5fd" stroke="#b8e8ff" stroke-width="0.35"/>
<path d="M625.7,-11.7A170.3,170.3 0 0 1 648.5,-96.8L655.9,-92.6A161.8,161.8 0 0 0 634.2,-11.7Z" fill="#9fe5ff" stroke="#b8e8ff" stroke-width="0.35"/>
<path d="M617.3,-11.7A178.7,178.7 0 0 1 641.2,-101.1L648.5,-96.8A170.3,170.3 0 0 0 625.7,-11.7Z" fill="#98ddfe" stroke="#b8e8ff" stroke-width="0.35"/>
<path d="M608.8,-11.7A187.2,187.2 0 0 1 633.9,-105.3L641.2,-101.1A178.7,178.7 0 0 0 617.3,-11.7Z" fill="#90d5fd" stroke="#b8e8ff" stroke-width="0.35"/>
<path d="M600.4,-11.7A195.6,195.6 0 0 1 626.6,-109.5L633.9,-105.3A187.2,187.2 0 0 0 608.8,-11.7Z" fill="#82c5fb" stroke="#b8e8ff" stroke-width="0.35"/>
<path d="M591.9,-11.7A204.1,204.1 0 0 1 619.3,-113.7L626.6,-109.5A195.6,195.6 0 0 0 600.4,-11.7Z" fill="#90d5fd" stroke="#b8e8ff" stroke-width="0.35"/>
<path d="M583.5,-11.7A212.5,212.5 0 0 1 612.0,-118.0L619.3,-113.7A204.1,204.1 0 0 0 591.9,-11.7Z" fill="#98ddfe" stroke="#b8e8ff" stroke-width="0.35"/>
<path d="M575.0,-11.7A221.0,221.0 0 0 1 604.6,-122.2L612.0,-118.0A212.5,212.5 0 0 0 583.5,-11.7Z" fill="#89cdfc" stroke="#b8e8ff" stroke-width="0.35"/>
<path d="M566.6,-11.7A229.4,229.4 0 0 1 597.3,-126.4L604.6,-122.2A221.0,221.0 0 0 0 575.0,-11.7Z" fill="#90d5fd" stroke="#b8e8ff" stroke-width="0.35"/>
</g>
<rect x="560" y="0" width="240" height="14" fill="url(#fadeTop)"/>
<text x="579" y="111.5" font-size="10" fill="#8a8a94" text-anchor="middle">Aug</text>
<text x="668" y="200.5" font-size="10" fill="#8a8a94" text-anchor="middle">Jul</text>
<text x="792.5" y="230.8" font-size="10" fill="#8a8a94" text-anchor="middle">Jun</text>
<rect x="779" y="0" width="21" height="240" fill="url(#fadeRight)"/>
<g id="dots">
<line x1="2.5" y1="81" x2="2.5" y2="420" stroke="#ebebeb" stroke-width="1"/>
<line x1="55.2" y1="81" x2="55.2" y2="420" stroke="#ebebeb" stroke-width="1"/>
<line x1="107.3" y1="81" x2="107.3" y2="420" stroke="#ebebeb" stroke-width="1"/>
<line x1="159" y1="81" x2="159" y2="420" stroke="#ebebeb" stroke-width="1"/>
<line x1="0" y1="81.2" x2="215" y2="81.2" stroke="#e6e6e6" stroke-width="1"/>
<line x1="0" y1="178.5" x2="215" y2="178.5" stroke="#e6e6e6" stroke-width="1"/>
<line x1="0" y1="275.6" x2="215" y2="275.6" stroke="#e6e6e6" stroke-width="1"/>
<line x1="0" y1="373.5" x2="215" y2="373.5" stroke="#e6e6e6" stroke-width="1"/>
<g fill="#1eaff3"><circle cx="2.6" cy="418.0" r="1.8"/><circle cx="2.6" cy="413.1" r="1.8"/><circle cx="2.6" cy="408.2" r="1.8"/><circle cx="2.6" cy="403.3" r="1.8"/><circle cx="2.6" cy="398.4" r="1.8"/><circle cx="2.6" cy="393.6" r="1.8"/><circle cx="2.6" cy="388.7" r="1.8"/><circle cx="2.6" cy="383.8" r="1.8"/><circle cx="2.6" cy="378.9" r="1.8"/><circle cx="2.6" cy="374.0" r="1.8"/><circle cx="2.6" cy="364.3" r="1.8"/><circle cx="2.6" cy="354.5" r="1.8"/><circle cx="2.6" cy="349.6" r="1.8"/><circle cx="2.6" cy="339.8" r="1.8"/><circle cx="2.6" cy="335.0" r="1.8"/><circle cx="2.6" cy="330.1" r="1.8"/><circle cx="2.6" cy="325.2" r="1.8"/><circle cx="2.6" cy="310.5" r="1.8"/><circle cx="2.6" cy="276.3" r="1.8"/><circle cx="7.8" cy="418.0" r="1.8"/><circle cx="7.8" cy="413.1" r="1.8"/><circle cx="7.8" cy="408.2" r="1.8"/><circle cx="7.8" cy="403.3" r="1.8"/><circle cx="7.8" cy="398.4" r="1.8"/><circle cx="7.8" cy="393.6" r="1.8"/><circle cx="7.8" cy="388.7" r="1.8"/><circle cx="7.8" cy="378.9" r="1.8"/><circle cx="7.8" cy="374.0" r="1.8"/><circle cx="7.8" cy="369.1" r="1.8"/><circle cx="7.8" cy="364.3" r="1.8"/><circle cx="7.8" cy="359.4" r="1.8"/><circle cx="7.8" cy="354.5" r="1.8"/><circle cx="7.8" cy="339.8" r="1.8"/><circle cx="7.8" cy="335.0" r="1.8"/><circle cx="7.8" cy="330.1" r="1.8"/><circle cx="7.8" cy="315.4" r="1.8"/><circle cx="7.8" cy="310.5" r="1.8"/><circle cx="13.0" cy="418.0" r="1.8"/><circle cx="13.0" cy="413.1" r="1.8"/><circle cx="13.0" cy="408.2" r="1.8"/><circle cx="13.0" cy="403.3" r="1.8"/><circle cx="13.0" cy="398.4" r="1.8"/><circle cx="13.0" cy="388.7" r="1.8"/><circle cx="13.0" cy="374.0" r="1.8"/><circle cx="13.0" cy="364.3" r="1.8"/><circle cx="13.0" cy="359.4" r="1.8"/><circle cx="13.0" cy="349.6" r="1.8"/><circle cx="13.0" cy="339.8" r="1.8"/><circle cx="13.0" cy="330.1" r="1.8"/><circle cx="13.0" cy="315.4" r="1.8"/><circle cx="13.0" cy="310.5" r="1.8"/><circle cx="13.0" cy="300.8" r="1.8"/><circle cx="13.0" cy="286.1" r="1.8"/><circle cx="18.2" cy="418.0" r="1.8"/><circle cx="18.2" cy="413.1" r="1.8"/><circle cx="18.2" cy="408.2" r="1.8"/><circle cx="18.2" cy="403.3" r="1.8"/><circle cx="18.2" cy="398.4" r="1.8"/><circle cx="18.2" cy="393.6" r="1.8"/><circle cx="18.2" cy="388.7" r="1.8"/><circle cx="18.2" cy="383.8" r="1.8"/><circle cx="18.2" cy="369.1" r="1.8"/><circle cx="18.2" cy="359.4" r="1.8"/><circle cx="18.2" cy="354.5" r="1.8"/><circle cx="18.2" cy="349.6" r="1.8"/><circle cx="18.2" cy="344.7" r="1.8"/><circle cx="18.2" cy="339.8" r="1.8"/><circle cx="18.2" cy="335.0" r="1.8"/><circle cx="18.2" cy="330.1" r="1.8"/><circle cx="18.2" cy="315.4" r="1.8"/><circle cx="18.2" cy="310.5" r="1.8"/><circle cx="18.2" cy="295.9" r="1.8"/><circle cx="18.2" cy="291.0" r="1.8"/><circle cx="18.2" cy="281.2" r="1.8"/><circle cx="18.2" cy="276.3" r="1.8"/><circle cx="18.2" cy="271.5" r="1.8"/><circle cx="23.5" cy="418.0" r="1.8"/><circle cx="23.5" cy="408.2" r="1.8"/><circle cx="23.5" cy="403.3" r="1.8"/><circle cx="23.5" cy="398.4" r="1.8"/><circle cx="23.5" cy="393.6" r="1.8"/><circle cx="23.5" cy="388.7" r="1.8"/><circle cx="23.5" cy="383.8" r="1.8"/><circle cx="23.5" cy="378.9" r="1.8"/><circle cx="23.5" cy="369.1" r="1.8"/><circle cx="23.5" cy="354.5" r="1.8"/><circle cx="23.5" cy="349.6" r="1.8"/><circle cx="23.5" cy="344.7" r="1.8"/><circle cx="23.5" cy="335.0" r="1.8"/><circle cx="28.7" cy="418.0" r="1.8"/><circle cx="28.7" cy="408.2" r="1.8"/><circle cx="28.7" cy="403.3" r="1.8"/><circle cx="28.7" cy="393.6" r="1.8"/><circle cx="28.7" cy="388.7" r="1.8"/><circle cx="28.7" cy="383.8" r="1.8"/><circle cx="28.7" cy="374.0" r="1.8"/><circle cx="28.7" cy="369.1" r="1.8"/><circle cx="28.7" cy="364.3" r="1.8"/><circle cx="28.7" cy="359.4" r="1.8"/><circle cx="28.7" cy="354.5" r="1.8"/><circle cx="28.7" cy="349.6" r="1.8"/><circle cx="28.7" cy="330.1" r="1.8"/><circle cx="28.7" cy="325.2" r="1.8"/><circle cx="28.7" cy="320.3" r="1.8"/><circle cx="28.7" cy="310.5" r="1.8"/><circle cx="28.7" cy="305.6" r="1.8"/><circle cx="28.7" cy="300.8" r="1.8"/><circle cx="28.7" cy="291.0" r="1.8"/><circle cx="28.7" cy="281.2" r="1.8"/><circle cx="28.7" cy="276.3" r="1.8"/><circle cx="33.9" cy="418.0" r="1.8"/><circle cx="33.9" cy="413.1" r="1.8"/><circle cx="33.9" cy="408.2" r="1.8"/><circle cx="33.9" cy="403.3" r="1.8"/><circle cx="33.9" cy="398.4" r="1.8"/><circle cx="33.9" cy="393.6" r="1.8"/><circle cx="33.9" cy="388.7" r="1.8"/><circle cx="33.9" cy="383.8" r="1.8"/><circle cx="33.9" cy="378.9" r="1.8"/><circle cx="33.9" cy="374.0" r="1.8"/><circle cx="33.9" cy="369.1" r="1.8"/><circle cx="33.9" cy="364.3" r="1.8"/><circle cx="33.9" cy="359.4" r="1.8"/><circle cx="33.9" cy="354.5" r="1.8"/><circle cx="33.9" cy="349.6" r="1.8"/><circle cx="33.9" cy="344.7" r="1.8"/><circle cx="33.9" cy="339.8" r="1.8"/><circle cx="33.9" cy="330.1" r="1.8"/><circle cx="33.9" cy="325.2" r="1.8"/><circle cx="33.9" cy="320.3" r="1.8"/><circle cx="33.9" cy="315.4" r="1.8"/><circle cx="33.9" cy="305.6" r="1.8"/><circle cx="33.9" cy="300.8" r="1.8"/><circle cx="33.9" cy="291.0" r="1.8"/><circle cx="33.9" cy="281.2" r="1.8"/><circle cx="39.1" cy="413.1" r="1.8"/><circle cx="39.1" cy="408.2" r="1.8"/><circle cx="39.1" cy="403.3" r="1.8"/><circle cx="39.1" cy="398.4" r="1.8"/><circle cx="39.1" cy="393.6" r="1.8"/><circle cx="39.1" cy="388.7" r="1.8"/><circle cx="39.1" cy="383.8" r="1.8"/><circle cx="39.1" cy="378.9" r="1.8"/><circle cx="39.1" cy="369.1" r="1.8"/><circle cx="39.1" cy="364.3" r="1.8"/><circle cx="39.1" cy="349.6" r="1.8"/><circle cx="39.1" cy="344.7" r="1.8"/><circle cx="39.1" cy="339.8" r="1.8"/><circle cx="39.1" cy="335.0" r="1.8"/><circle cx="39.1" cy="325.2" r="1.8"/><circle cx="39.1" cy="315.4" r="1.8"/><circle cx="39.1" cy="310.5" r="1.8"/><circle cx="39.1" cy="305.6" r="1.8"/><circle cx="39.1" cy="300.8" r="1.8"/><circle cx="39.1" cy="291.0" r="1.8"/><circle cx="39.1" cy="276.3" r="1.8"/><circle cx="39.1" cy="271.5" r="1.8"/><circle cx="39.1" cy="266.6" r="1.8"/><circle cx="39.1" cy="261.7" r="1.8"/><circle cx="39.1" cy="256.8" r="1.8"/><circle cx="39.1" cy="222.6" r="1.8"/><circle cx="39.1" cy="208.0" r="1.8"/><circle cx="39.1" cy="203.1" r="1.8"/><circle cx="39.1" cy="183.5" r="1.8"/><circle cx="39.1" cy="173.8" r="1.8"/><circle cx="39.1" cy="134.7" r="1.8"/><circle cx="44.3" cy="418.0" r="1.8"/><circle cx="44.3" cy="413.1" r="1.8"/><circle cx="44.3" cy="403.3" r="1.8"/><circle cx="44.3" cy="398.4" r="1.8"/><circle cx="44.3" cy="393.6" r="1.8"/><circle cx="44.3" cy="388.7" r="1.8"/><circle cx="44.3" cy="383.8" r="1.8"/><circle cx="44.3" cy="378.9" r="1.8"/><circle cx="44.3" cy="374.0" r="1.8"/><circle cx="44.3" cy="369.1" r="1.8"/><circle cx="44.3" cy="364.3" r="1.8"/><circle cx="44.3" cy="349.6" r="1.8"/><circle cx="44.3" cy="344.7" r="1.8"/><circle cx="44.3" cy="330.1" r="1.8"/><circle cx="44.3" cy="325.2" r="1.8"/><circle cx="44.3" cy="320.3" r="1.8"/><circle cx="44.3" cy="315.4" r="1.8"/><circle cx="44.3" cy="310.5" r="1.8"/><circle cx="44.3" cy="305.6" r="1.8"/><circle cx="44.3" cy="300.8" r="1.8"/><circle cx="44.3" cy="295.9" r="1.8"/><circle cx="44.3" cy="286.1" r="1.8"/><circle cx="44.3" cy="281.2" r="1.8"/><circle cx="44.3" cy="266.6" r="1.8"/><circle cx="44.3" cy="261.7" r="1.8"/><circle cx="44.3" cy="251.9" r="1.8"/><circle cx="44.3" cy="247.0" r="1.8"/><circle cx="44.3" cy="242.2" r="1.8"/><circle cx="44.3" cy="237.3" r="1.8"/><circle cx="44.3" cy="227.5" r="1.8"/><circle cx="44.3" cy="217.7" r="1.8"/><circle cx="44.3" cy="212.9" r="1.8"/><circle cx="44.3" cy="208.0" r="1.8"/><circle cx="44.3" cy="203.1" r="1.8"/><circle cx="44.3" cy="193.3" r="1.8"/><circle cx="44.3" cy="188.4" r="1.8"/><circle cx="44.3" cy="183.5" r="1.8"/><circle cx="44.3" cy="173.8" r="1.8"/><circle cx="49.5" cy="418.0" r="1.8"/><circle cx="49.5" cy="413.1" r="1.8"/><circle cx="49.5" cy="408.2" r="1.8"/><circle cx="49.5" cy="403.3" r="1.8"/><circle cx="49.5" cy="393.6" r="1.8"/><circle cx="49.5" cy="388.7" r="1.8"/><circle cx="49.5" cy="383.8" r="1.8"/><circle cx="49.5" cy="378.9" r="1.8"/><circle cx="49.5" cy="369.1" r="1.8"/><circle cx="49.5" cy="359.4" r="1.8"/><circle cx="49.5" cy="349.6" r="1.8"/><circle cx="49.5" cy="344.7" r="1.8"/><circle cx="49.5" cy="330.1" r="1.8"/><circle cx="49.5" cy="325.2" r="1.8"/><circle cx="49.5" cy="320.3" r="1.8"/><circle cx="49.5" cy="315.4" r="1.8"/><circle cx="49.5" cy="310.5" r="1.8"/><circle cx="49.5" cy="305.6" r="1.8"/><circle cx="49.5" cy="300.8" r="1.8"/><circle cx="49.5" cy="286.1" r="1.8"/><circle cx="49.5" cy="276.3" r="1.8"/><circle cx="49.5" cy="271.5" r="1.8"/><circle cx="49.5" cy="266.6" r="1.8"/><circle cx="49.5" cy="261.7" r="1.8"/><circle cx="49.5" cy="256.8" r="1.8"/><circle cx="49.5" cy="242.2" r="1.8"/><circle cx="49.5" cy="237.3" r="1.8"/><circle cx="49.5" cy="227.5" r="1.8"/><circle cx="49.5" cy="222.6" r="1.8"/><circle cx="49.5" cy="212.9" r="1.8"/><circle cx="54.7" cy="418.0" r="1.8"/><circle cx="54.7" cy="408.2" r="1.8"/><circle cx="54.7" cy="403.3" r="1.8"/><circle cx="54.7" cy="398.4" r="1.8"/><circle cx="54.7" cy="393.6" r="1.8"/><circle cx="54.7" cy="388.7" r="1.8"/><circle cx="54.7" cy="383.8" r="1.8"/><circle cx="54.7" cy="378.9" r="1.8"/><circle cx="54.7" cy="369.1" r="1.8"/><circle cx="54.7" cy="364.3" r="1.8"/><circle cx="54.7" cy="359.4" r="1.8"/><circle cx="54.7" cy="354.5" r="1.8"/><circle cx="54.7" cy="349.6" r="1.8"/><circle cx="54.7" cy="344.7" r="1.8"/><circle cx="54.7" cy="335.0" r="1.8"/><circle cx="54.7" cy="330.1" r="1.8"/><circle cx="54.7" cy="325.2" r="1.8"/><circle cx="54.7" cy="320.3" r="1.8"/><circle cx="54.7" cy="305.6" r="1.8"/><circle cx="54.7" cy="300.8" r="1.8"/><circle cx="54.7" cy="291.0" r="1.8"/><circle cx="54.7" cy="271.5" r="1.8"/><circle cx="54.7" cy="256.8" r="1.8"/><circle cx="54.7" cy="247.0" r="1.8"/><circle cx="59.9" cy="418.0" r="1.8"/><circle cx="59.9" cy="413.1" r="1.8"/><circle cx="59.9" cy="408.2" r="1.8"/><circle cx="59.9" cy="403.3" r="1.8"/><circle cx="59.9" cy="398.4" r="1.8"/><circle cx="59.9" cy="393.6" r="1.8"/><circle cx="59.9" cy="388.7" r="1.8"/><circle cx="59.9" cy="383.8" r="1.8"/><circle cx="59.9" cy="378.9" r="1.8"/><circle cx="59.9" cy="374.0" r="1.8"/><circle cx="59.9" cy="369.1" r="1.8"/><circle cx="59.9" cy="364.3" r="1.8"/><circle cx="59.9" cy="359.4" r="1.8"/><circle cx="59.9" cy="354.5" r="1.8"/><circle cx="59.9" cy="349.6" r="1.8"/><circle cx="59.9" cy="344.7" r="1.8"/><circle cx="59.9" cy="339.8" r="1.8"/><circle cx="59.9" cy="335.0" r="1.8"/><circle cx="59.9" cy="325.2" r="1.8"/><circle cx="59.9" cy="320.3" r="1.8"/><circle cx="59.9" cy="305.6" r="1.8"/><circle cx="59.9" cy="291.0" r="1.8"/><circle cx="59.9" cy="286.1" r="1.8"/><circle cx="59.9" cy="281.2" r="1.8"/><circle cx="59.9" cy="266.6" r="1.8"/><circle cx="59.9" cy="251.9" r="1.8"/><circle cx="59.9" cy="247.0" r="1.8"/><circle cx="59.9" cy="242.2" r="1.8"/><circle cx="59.9" cy="227.5" r="1.8"/><circle cx="59.9" cy="217.7" r="1.8"/><circle cx="59.9" cy="193.3" r="1.8"/><circle cx="59.9" cy="183.5" r="1.8"/><circle cx="65.1" cy="418.0" r="1.8"/><circle cx="65.1" cy="413.1" r="1.8"/><circle cx="65.1" cy="408.2" r="1.8"/><circle cx="65.1" cy="403.3" r="1.8"/><circle cx="65.1" cy="398.4" r="1.8"/><circle cx="65.1" cy="393.6" r="1.8"/><circle cx="65.1" cy="378.9" r="1.8"/><circle cx="65.1" cy="374.0" r="1.8"/><circle cx="65.1" cy="369.1" r="1.8"/><circle cx="65.1" cy="364.3" r="1.8"/><circle cx="65.1" cy="359.4" r="1.8"/><circle cx="65.1" cy="354.5" r="1.8"/><circle cx="65.1" cy="349.6" r="1.8"/><circle cx="65.1" cy="344.7" r="1.8"/><circle cx="65.1" cy="335.0" r="1.8"/><circle cx="65.1" cy="330.1" r="1.8"/><circle cx="65.1" cy="320.3" r="1.8"/><circle cx="65.1" cy="315.4" r="1.8"/><circle cx="65.1" cy="310.5" r="1.8"/><circle cx="65.1" cy="295.9" r="1.8"/><circle cx="65.1" cy="286.1" r="1.8"/><circle cx="65.1" cy="281.2" r="1.8"/><circle cx="65.1" cy="276.3" r="1.8"/><circle cx="65.1" cy="271.5" r="1.8"/><circle cx="65.1" cy="266.6" r="1.8"/><circle cx="65.1" cy="256.8" r="1.8"/><circle cx="65.1" cy="251.9" r="1.8"/><circle cx="65.1" cy="247.0" r="1.8"/><circle cx="65.1" cy="242.2" r="1.8"/><circle cx="65.1" cy="232.4" r="1.8"/><circle cx="65.1" cy="227.5" r="1.8"/><circle cx="65.1" cy="222.6" r="1.8"/><circle cx="65.1" cy="217.7" r="1.8"/><circle cx="65.1" cy="208.0" r="1.8"/><circle cx="65.1" cy="203.1" r="1.8"/><circle cx="65.1" cy="198.2" r="1.8"/><circle cx="70.4" cy="418.0" r="1.8"/><circle cx="70.4" cy="413.1" r="1.8"/><circle cx="70.4" cy="408.2" r="1.8"/><circle cx="70.4" cy="403.3" r="1.8"/><circle cx="70.4" cy="393.6" r="1.8"/><circle cx="70.4" cy="388.7" r="1.8"/><circle cx="70.4" cy="378.9" r="1.8"/><circle cx="70.4" cy="374.0" r="1.8"/><circle cx="70.4" cy="369.1" r="1.8"/><circle cx="70.4" cy="364.3" r="1.8"/><circle cx="70.4" cy="359.4" r="1.8"/><circle cx="70.4" cy="354.5" r="1.8"/><circle cx="70.4" cy="349.6" r="1.8"/><circle cx="70.4" cy="344.7" r="1.8"/><circle cx="70.4" cy="339.8" r="1.8"/><circle cx="70.4" cy="335.0" r="1.8"/><circle cx="70.4" cy="330.1" r="1.8"/><circle cx="70.4" cy="325.2" r="1.8"/><circle cx="70.4" cy="320.3" r="1.8"/><circle cx="70.4" cy="315.4" r="1.8"/><circle cx="70.4" cy="310.5" r="1.8"/><circle cx="70.4" cy="305.6" r="1.8"/><circle cx="70.4" cy="295.9" r="1.8"/><circle cx="70.4" cy="291.0" r="1.8"/><circle cx="70.4" cy="281.2" r="1.8"/><circle cx="70.4" cy="251.9" r="1.8"/><circle cx="70.4" cy="247.0" r="1.8"/><circle cx="70.4" cy="242.2" r="1.8"/><circle cx="70.4" cy="237.3" r="1.8"/><circle cx="70.4" cy="232.4" r="1.8"/><circle cx="70.4" cy="227.5" r="1.8"/><circle cx="70.4" cy="222.6" r="1.8"/><circle cx="70.4" cy="217.7" r="1.8"/><circle cx="70.4" cy="208.0" r="1.8"/><circle cx="70.4" cy="203.1" r="1.8"/><circle cx="70.4" cy="193.3" r="1.8"/><circle cx="70.4" cy="168.9" r="1.8"/><circle cx="70.4" cy="159.1" r="1.8"/><circle cx="75.6" cy="418.0" r="1.8"/><circle cx="75.6" cy="408.2" r="1.8"/><circle cx="75.6" cy="398.4" r="1.8"/><circle cx="75.6" cy="393.6" r="1.8"/><circle cx="75.6" cy="388.7" r="1.8"/><circle cx="75.6" cy="383.8" r="1.8"/><circle cx="75.6" cy="378.9" r="1.8"/><circle cx="75.6" cy="369.1" r="1.8"/><circle cx="75.6" cy="364.3" r="1.8"/><circle cx="75.6" cy="354.5" r="1.8"/><circle cx="75.6" cy="349.6" r="1.8"/><circle cx="75.6" cy="344.7" r="1.8"/><circle cx="75.6" cy="339.8" r="1.8"/><circle cx="75.6" cy="330.1" r="1.8"/><circle cx="75.6" cy="325.2" r="1.8"/><circle cx="75.6" cy="320.3" r="1.8"/><circle cx="75.6" cy="315.4" r="1.8"/><circle cx="75.6" cy="310.5" r="1.8"/><circle cx="75.6" cy="305.6" r="1.8"/><circle cx="75.6" cy="300.8" r="1.8"/><circle cx="75.6" cy="291.0" r="1.8"/><circle cx="75.6" cy="286.1" r="1.8"/><circle cx="75.6" cy="271.5" r="1.8"/><circle cx="75.6" cy="261.7" r="1.8"/><circle cx="75.6" cy="256.8" r="1.8"/><circle cx="75.6" cy="251.9" r="1.8"/><circle cx="75.6" cy="242.2" r="1.8"/><circle cx="75.6" cy="232.4" r="1.8"/><circle cx="75.6" cy="227.5" r="1.8"/><circle cx="75.6" cy="222.6" r="1.8"/><circle cx="75.6" cy="217.7" r="1.8"/><circle cx="75.6" cy="212.9" r="1.8"/><circle cx="75.6" cy="198.2" r="1.8"/><circle cx="75.6" cy="193.3" r="1.8"/><circle cx="75.6" cy="188.4" r="1.8"/><circle cx="75.6" cy="173.8" r="1.8"/><circle cx="75.6" cy="168.9" r="1.8"/><circle cx="75.6" cy="164.0" r="1.8"/><circle cx="80.8" cy="418.0" r="1.8"/><circle cx="80.8" cy="413.1" r="1.8"/><circle cx="80.8" cy="408.2" r="1.8"/><circle cx="80.8" cy="403.3" r="1.8"/><circle cx="80.8" cy="398.4" r="1.8"/><circle cx="80.8" cy="393.6" r="1.8"/><circle cx="80.8" cy="388.7" r="1.8"/><circle cx="80.8" cy="374.0" r="1.8"/><circle cx="80.8" cy="369.1" r="1.8"/><circle cx="80.8" cy="364.3" r="1.8"/><circle cx="80.8" cy="354.5" r="1.8"/><circle cx="80.8" cy="339.8" r="1.8"/><circle cx="80.8" cy="335.0" r="1.8"/><circle cx="80.8" cy="330.1" r="1.8"/><circle cx="80.8" cy="325.2" r="1.8"/><circle cx="80.8" cy="320.3" r="1.8"/><circle cx="80.8" cy="310.5" r="1.8"/><circle cx="80.8" cy="305.6" r="1.8"/><circle cx="80.8" cy="300.8" r="1.8"/><circle cx="80.8" cy="286.1" r="1.8"/><circle cx="80.8" cy="281.2" r="1.8"/><circle cx="80.8" cy="276.3" r="1.8"/><circle cx="80.8" cy="266.6" r="1.8"/><circle cx="80.8" cy="256.8" r="1.8"/><circle cx="80.8" cy="247.0" r="1.8"/><circle cx="80.8" cy="242.2" r="1.8"/><circle cx="80.8" cy="232.4" r="1.8"/><circle cx="80.8" cy="227.5" r="1.8"/><circle cx="80.8" cy="222.6" r="1.8"/><circle cx="80.8" cy="203.1" r="1.8"/><circle cx="80.8" cy="188.4" r="1.8"/><circle cx="80.8" cy="178.7" r="1.8"/><circle cx="80.8" cy="168.9" r="1.8"/><circle cx="86.0" cy="418.0" r="1.8"/><circle cx="86.0" cy="413.1" r="1.8"/><circle cx="86.0" cy="408.2" r="1.8"/><circle cx="86.0" cy="403.3" r="1.8"/><circle cx="86.0" cy="398.4" r="1.8"/><circle cx="86.0" cy="393.6" r="1.8"/><circle cx="86.0" cy="388.7" r="1.8"/><circle cx="86.0" cy="383.8" r="1.8"/><circle cx="86.0" cy="378.9" r="1.8"/><circle cx="86.0" cy="374.0" r="1.8"/><circle cx="86.0" cy="369.1" r="1.8"/><circle cx="86.0" cy="364.3" r="1.8"/><circle cx="86.0" cy="359.4" r="1.8"/><circle cx="86.0" cy="354.5" r="1.8"/><circle cx="86.0" cy="349.6" r="1.8"/><circle cx="86.0" cy="344.7" r="1.8"/><circle cx="86.0" cy="339.8" r="1.8"/><circle cx="86.0" cy="335.0" r="1.8"/><circle cx="86.0" cy="325.2" r="1.8"/><circle cx="86.0" cy="320.3" r="1.8"/><circle cx="86.0" cy="315.4" r="1.8"/><circle cx="86.0" cy="310.5" r="1.8"/><circle cx="86.0" cy="305.6" r="1.8"/><circle cx="86.0" cy="295.9" r="1.8"/><circle cx="86.0" cy="291.0" r="1.8"/><circle cx="86.0" cy="276.3" r="1.8"/><circle cx="86.0" cy="271.5" r="1.8"/><circle cx="86.0" cy="266.6" r="1.8"/><circle cx="86.0" cy="261.7" r="1.8"/><circle cx="86.0" cy="256.8" r="1.8"/><circle cx="86.0" cy="251.9" r="1.8"/><circle cx="86.0" cy="242.2" r="1.8"/><circle cx="86.0" cy="237.3" r="1.8"/><circle cx="86.0" cy="222.6" r="1.8"/><circle cx="86.0" cy="217.7" r="1.8"/><circle cx="86.0" cy="208.0" r="1.8"/><circle cx="86.0" cy="198.2" r="1.8"/><circle cx="86.0" cy="193.3" r="1.8"/><circle cx="86.0" cy="178.7" r="1.8"/><circle cx="86.0" cy="173.8" r="1.8"/><circle cx="86.0" cy="168.9" r="1.8"/><circle cx="86.0" cy="154.2" r="1.8"/><circle cx="91.2" cy="418.0" r="1.8"/><circle cx="91.2" cy="413.1" r="1.8"/><circle cx="91.2" cy="408.2" r="1.8"/><circle cx="91.2" cy="403.3" r="1.8"/><circle cx="91.2" cy="398.4" r="1.8"/><circle cx="91.2" cy="393.6" r="1.8"/><circle cx="91.2" cy="388.7" r="1.8"/><circle cx="91.2" cy="383.8" r="1.8"/><circle cx="91.2" cy="378.9" r="1.8"/><circle cx="91.2" cy="374.0" r="1.8"/><circle cx="91.2" cy="369.1" r="1.8"/><circle cx="91.2" cy="364.3" r="1.8"/><circle cx="91.2" cy="359.4" r="1.8"/><circle cx="91.2" cy="354.5" r="1.8"/><circle cx="91.2" cy="349.6" r="1.8"/><circle cx="91.2" cy="344.7" r="1.8"/><circle cx="91.2" cy="339.8" r="1.8"/><circle cx="91.2" cy="335.0" r="1.8"/><circle cx="91.2" cy="330.1" r="1.8"/><circle cx="91.2" cy="325.2" r="1.8"/><circle cx="91.2" cy="315.4" r="1.8"/><circle cx="91.2" cy="310.5" r="1.8"/><circle cx="91.2" cy="305.6" r="1.8"/><circle cx="91.2" cy="291.0" r="1.8"/><circle cx="91.2" cy="281.2" r="1.8"/><circle cx="91.2" cy="261.7" r="1.8"/><circle cx="91.2" cy="256.8" r="1.8"/><circle cx="96.4" cy="418.0" r="1.8"/><circle cx="96.4" cy="413.1" r="1.8"/><circle cx="96.4" cy="408.2" r="1.8"/><circle cx="96.4" cy="403.3" r="1.8"/><circle cx="96.4" cy="398.4" r="1.8"/><circle cx="96.4" cy="383.8" r="1.8"/><circle cx="96.4" cy="378.9" r="1.8"/><circle cx="96.4" cy="374.0" r="1.8"/><circle cx="96.4" cy="369.1" r="1.8"/><circle cx="96.4" cy="364.3" r="1.8"/><circle cx="96.4" cy="359.4" r="1.8"/><circle cx="96.4" cy="349.6" r="1.8"/><circle cx="96.4" cy="339.8" r="1.8"/><circle cx="96.4" cy="335.0" r="1.8"/><circle cx="96.4" cy="330.1" r="1.8"/><circle cx="96.4" cy="325.2" r="1.8"/><circle cx="96.4" cy="320.3" r="1.8"/><circle cx="96.4" cy="310.5" r="1.8"/><circle cx="96.4" cy="305.6" r="1.8"/><circle cx="96.4" cy="300.8" r="1.8"/><circle cx="96.4" cy="295.9" r="1.8"/><circle cx="96.4" cy="291.0" r="1.8"/><circle cx="96.4" cy="286.1" r="1.8"/><circle cx="96.4" cy="271.5" r="1.8"/><circle cx="96.4" cy="266.6" r="1.8"/><circle cx="96.4" cy="256.8" r="1.8"/><circle cx="96.4" cy="251.9" r="1.8"/><circle cx="101.6" cy="418.0" r="1.8"/><circle cx="101.6" cy="413.1" r="1.8"/><circle cx="101.6" cy="408.2" r="1.8"/><circle cx="101.6" cy="398.4" r="1.8"/><circle cx="101.6" cy="393.6" r="1.8"/><circle cx="101.6" cy="388.7" r="1.8"/><circle cx="101.6" cy="383.8" r="1.8"/><circle cx="101.6" cy="378.9" r="1.8"/><circle cx="101.6" cy="374.0" r="1.8"/><circle cx="101.6" cy="364.3" r="1.8"/><circle cx="101.6" cy="359.4" r="1.8"/><circle cx="101.6" cy="354.5" r="1.8"/><circle cx="101.6" cy="349.6" r="1.8"/><circle cx="101.6" cy="344.7" r="1.8"/><circle cx="101.6" cy="339.8" r="1.8"/><circle cx="101.6" cy="335.0" r="1.8"/><circle cx="101.6" cy="330.1" r="1.8"/><circle cx="101.6" cy="320.3" r="1.8"/><circle cx="101.6" cy="310.5" r="1.8"/><circle cx="101.6" cy="305.6" r="1.8"/><circle cx="101.6" cy="300.8" r="1.8"/><circle cx="101.6" cy="286.1" r="1.8"/><circle cx="101.6" cy="276.3" r="1.8"/><circle cx="101.6" cy="271.5" r="1.8"/><circle cx="101.6" cy="266.6" r="1.8"/><circle cx="101.6" cy="261.7" r="1.8"/><circle cx="101.6" cy="256.8" r="1.8"/><circle cx="101.6" cy="247.0" r="1.8"/><circle cx="106.8" cy="418.0" r="1.8"/><circle cx="106.8" cy="413.1" r="1.8"/><circle cx="106.8" cy="408.2" r="1.8"/><circle cx="106.8" cy="403.3" r="1.8"/><circle cx="106.8" cy="398.4" r="1.8"/><circle cx="106.8" cy="393.6" r="1.8"/><circle cx="106.8" cy="388.7" r="1.8"/><circle cx="106.8" cy="383.8" r="1.8"/><circle cx="106.8" cy="378.9" r="1.8"/><circle cx="106.8" cy="374.0" r="1.8"/><circle cx="106.8" cy="364.3" r="1.8"/><circle cx="106.8" cy="359.4" r="1.8"/><circle cx="106.8" cy="354.5" r="1.8"/><circle cx="106.8" cy="349.6" r="1.8"/><circle cx="106.8" cy="344.7" r="1.8"/><circle cx="106.8" cy="335.0" r="1.8"/><circle cx="106.8" cy="330.1" r="1.8"/><circle cx="106.8" cy="325.2" r="1.8"/><circle cx="106.8" cy="320.3" r="1.8"/><circle cx="106.8" cy="315.4" r="1.8"/><circle cx="106.8" cy="305.6" r="1.8"/><circle cx="106.8" cy="300.8" r="1.8"/><circle cx="106.8" cy="291.0" r="1.8"/><circle cx="106.8" cy="286.1" r="1.8"/><circle cx="106.8" cy="276.3" r="1.8"/><circle cx="112.0" cy="418.0" r="1.8"/><circle cx="112.0" cy="413.1" r="1.8"/><circle cx="112.0" cy="408.2" r="1.8"/><circle cx="112.0" cy="403.3" r="1.8"/><circle cx="112.0" cy="398.4" r="1.8"/><circle cx="112.0" cy="393.6" r="1.8"/><circle cx="112.0" cy="388.7" r="1.8"/><circle cx="112.0" cy="383.8" r="1.8"/><circle cx="112.0" cy="378.9" r="1.8"/><circle cx="112.0" cy="374.0" r="1.8"/><circle cx="112.0" cy="369.1" r="1.8"/><circle cx="112.0" cy="364.3" r="1.8"/><circle cx="112.0" cy="359.4" r="1.8"/><circle cx="112.0" cy="354.5" r="1.8"/><circle cx="112.0" cy="349.6" r="1.8"/><circle cx="112.0" cy="344.7" r="1.8"/><circle cx="112.0" cy="339.8" r="1.8"/><circle cx="112.0" cy="335.0" r="1.8"/><circle cx="112.0" cy="330.1" r="1.8"/><circle cx="112.0" cy="310.5" r="1.8"/><circle cx="112.0" cy="305.6" r="1.8"/><circle cx="117.2" cy="418.0" r="1.8"/><circle cx="117.2" cy="413.1" r="1.8"/><circle cx="117.2" cy="408.2" r="1.8"/><circle cx="117.2" cy="403.3" r="1.8"/><circle cx="117.2" cy="398.4" r="1.8"/><circle cx="117.2" cy="393.6" r="1.8"/><circle cx="117.2" cy="388.7" r="1.8"/><circle cx="117.2" cy="383.8" r="1.8"/><circle cx="117.2" cy="374.0" r="1.8"/><circle cx="117.2" cy="369.1" r="1.8"/><circle cx="117.2" cy="364.3" r="1.8"/><circle cx="117.2" cy="359.4" r="1.8"/><circle cx="117.2" cy="354.5" r="1.8"/><circle cx="117.2" cy="349.6" r="1.8"/><circle cx="117.2" cy="344.7" r="1.8"/><circle cx="117.2" cy="339.8" r="1.8"/><circle cx="122.5" cy="418.0" r="1.8"/><circle cx="122.5" cy="408.2" r="1.8"/><circle cx="122.5" cy="403.3" r="1.8"/><circle cx="122.5" cy="398.4" r="1.8"/><circle cx="122.5" cy="393.6" r="1.8"/><circle cx="122.5" cy="388.7" r="1.8"/><circle cx="122.5" cy="383.8" r="1.8"/><circle cx="122.5" cy="374.0" r="1.8"/><circle cx="122.5" cy="369.1" r="1.8"/><circle cx="122.5" cy="364.3" r="1.8"/><circle cx="122.5" cy="354.5" r="1.8"/><circle cx="122.5" cy="349.6" r="1.8"/><circle cx="122.5" cy="344.7" r="1.8"/><circle cx="122.5" cy="339.8" r="1.8"/><circle cx="122.5" cy="335.0" r="1.8"/><circle cx="122.5" cy="325.2" r="1.8"/><circle cx="122.5" cy="320.3" r="1.8"/><circle cx="122.5" cy="315.4" r="1.8"/><circle cx="122.5" cy="310.5" r="1.8"/><circle cx="122.5" cy="305.6" r="1.8"/><circle cx="122.5" cy="295.9" r="1.8"/><circle cx="122.5" cy="291.0" r="1.8"/><circle cx="127.7" cy="418.0" r="1.8"/><circle cx="127.7" cy="413.1" r="1.8"/><circle cx="127.7" cy="408.2" r="1.8"/><circle cx="127.7" cy="403.3" r="1.8"/><circle cx="127.7" cy="398.4" r="1.8"/><circle cx="127.7" cy="393.6" r="1.8"/><circle cx="127.7" cy="388.7" r="1.8"/><circle cx="127.7" cy="378.9" r="1.8"/><circle cx="127.7" cy="374.0" r="1.8"/><circle cx="127.7" cy="369.1" r="1.8"/><circle cx="127.7" cy="364.3" r="1.8"/><circle cx="127.7" cy="359.4" r="1.8"/><circle cx="127.7" cy="354.5" r="1.8"/><circle cx="127.7" cy="349.6" r="1.8"/><circle cx="127.7" cy="339.8" r="1.8"/><circle cx="127.7" cy="330.1" r="1.8"/><circle cx="132.9" cy="418.0" r="1.8"/><circle cx="132.9" cy="413.1" r="1.8"/><circle cx="132.9" cy="408.2" r="1.8"/><circle cx="132.9" cy="403.3" r="1.8"/><circle cx="132.9" cy="398.4" r="1.8"/><circle cx="132.9" cy="393.6" r="1.8"/><circle cx="132.9" cy="388.7" r="1.8"/><circle cx="132.9" cy="383.8" r="1.8"/><circle cx="132.9" cy="374.0" r="1.8"/><circle cx="132.9" cy="369.1" r="1.8"/><circle cx="132.9" cy="364.3" r="1.8"/><circle cx="132.9" cy="359.4" r="1.8"/><circle cx="132.9" cy="354.5" r="1.8"/><circle cx="132.9" cy="349.6" r="1.8"/><circle cx="132.9" cy="339.8" r="1.8"/><circle cx="132.9" cy="320.3" r="1.8"/><circle cx="132.9" cy="315.4" r="1.8"/><circle cx="132.9" cy="310.5" r="1.8"/><circle cx="132.9" cy="300.8" r="1.8"/><circle cx="132.9" cy="295.9" r="1.8"/><circle cx="132.9" cy="291.0" r="1.8"/><circle cx="138.1" cy="418.0" r="1.8"/><circle cx="138.1" cy="413.1" r="1.8"/><circle cx="138.1" cy="403.3" r="1.8"/><circle cx="138.1" cy="398.4" r="1.8"/><circle cx="138.1" cy="393.6" r="1.8"/><circle cx="138.1" cy="388.7" r="1.8"/><circle cx="138.1" cy="383.8" r="1.8"/><circle cx="138.1" cy="378.9" r="1.8"/><circle cx="138.1" cy="374.0" r="1.8"/><circle cx="138.1" cy="369.1" r="1.8"/><circle cx="138.1" cy="364.3" r="1.8"/><circle cx="138.1" cy="359.4" r="1.8"/><circle cx="138.1" cy="354.5" r="1.8"/><circle cx="138.1" cy="344.7" r="1.8"/><circle cx="138.1" cy="335.0" r="1.8"/><circle cx="138.1" cy="330.1" r="1.8"/><circle cx="138.1" cy="325.2" r="1.8"/><circle cx="138.1" cy="320.3" r="1.8"/><circle cx="138.1" cy="315.4" r="1.8"/><circle cx="138.1" cy="310.5" r="1.8"/><circle cx="138.1" cy="305.6" r="1.8"/><circle cx="138.1" cy="300.8" r="1.8"/><circle cx="138.1" cy="295.9" r="1.8"/><circle cx="138.1" cy="291.0" r="1.8"/><circle cx="138.1" cy="286.1" r="1.8"/><circle cx="138.1" cy="281.2" r="1.8"/><circle cx="143.3" cy="418.0" r="1.8"/><circle cx="143.3" cy="413.1" r="1.8"/><circle cx="143.3" cy="408.2" r="1.8"/><circle cx="143.3" cy="403.3" r="1.8"/><circle cx="143.3" cy="398.4" r="1.8"/><circle cx="148.5" cy="418.0" r="1.8"/><circle cx="148.5" cy="413.1" r="1.8"/><circle cx="148.5" cy="408.2" r="1.8"/><circle cx="148.5" cy="403.3" r="1.8"/><circle cx="148.5" cy="393.6" r="1.8"/><circle cx="148.5" cy="388.7" r="1.8"/><circle cx="148.5" cy="383.8" r="1.8"/><circle cx="148.5" cy="378.9" r="1.8"/><circle cx="148.5" cy="374.0" r="1.8"/><circle cx="148.5" cy="369.1" r="1.8"/><circle cx="148.5" cy="364.3" r="1.8"/><circle cx="153.7" cy="418.0" r="1.8"/><circle cx="153.7" cy="413.1" r="1.8"/><circle cx="153.7" cy="408.2" r="1.8"/><circle cx="153.7" cy="403.3" r="1.8"/><circle cx="153.7" cy="398.4" r="1.8"/><circle cx="153.7" cy="388.7" r="1.8"/><circle cx="153.7" cy="383.8" r="1.8"/><circle cx="158.9" cy="418.0" r="1.8"/><circle cx="158.9" cy="413.1" r="1.8"/><circle cx="158.9" cy="408.2" r="1.8"/><circle cx="158.9" cy="403.3" r="1.8"/><circle cx="164.1" cy="418.0" r="1.8"/><circle cx="164.1" cy="413.1" r="1.8"/><circle cx="164.1" cy="408.2" r="1.8"/><circle cx="164.1" cy="403.3" r="1.8"/><circle cx="164.1" cy="398.4" r="1.8"/><circle cx="164.1" cy="393.6" r="1.8"/><circle cx="164.1" cy="388.7" r="1.8"/><circle cx="164.1" cy="383.8" r="1.8"/><circle cx="174.6" cy="418.0" r="1.8"/><circle cx="174.6" cy="413.1" r="1.8"/></g>
<g fill="#ff6a3c"><circle cx="2.6" cy="369.1" r="1.8"/><circle cx="2.6" cy="359.4" r="1.8"/><circle cx="2.6" cy="344.7" r="1.8"/><circle cx="2.6" cy="320.3" r="1.8"/><circle cx="2.6" cy="315.4" r="1.8"/><circle cx="2.6" cy="305.6" r="1.8"/><circle cx="2.6" cy="300.8" r="1.8"/><circle cx="2.6" cy="295.9" r="1.8"/><circle cx="2.6" cy="291.0" r="1.8"/><circle cx="2.6" cy="286.1" r="1.8"/><circle cx="2.6" cy="281.2" r="1.8"/><circle cx="2.6" cy="271.5" r="1.8"/><circle cx="2.6" cy="266.6" r="1.8"/><circle cx="2.6" cy="261.7" r="1.8"/><circle cx="2.6" cy="256.8" r="1.8"/><circle cx="2.6" cy="251.9" r="1.8"/><circle cx="2.6" cy="247.0" r="1.8"/><circle cx="7.8" cy="383.8" r="1.8"/><circle cx="7.8" cy="349.6" r="1.8"/><circle cx="7.8" cy="344.7" r="1.8"/><circle cx="7.8" cy="325.2" r="1.8"/><circle cx="7.8" cy="320.3" r="1.8"/><circle cx="13.0" cy="393.6" r="1.8"/><circle cx="13.0" cy="383.8" r="1.8"/><circle cx="13.0" cy="378.9" r="1.8"/><circle cx="13.0" cy="369.1" r="1.8"/><circle cx="13.0" cy="354.5" r="1.8"/><circle cx="13.0" cy="344.7" r="1.8"/><circle cx="13.0" cy="335.0" r="1.8"/><circle cx="13.0" cy="325.2" r="1.8"/><circle cx="13.0" cy="320.3" r="1.8"/><circle cx="13.0" cy="305.6" r="1.8"/><circle cx="13.0" cy="295.9" r="1.8"/><circle cx="13.0" cy="291.0" r="1.8"/><circle cx="18.2" cy="378.9" r="1.8"/><circle cx="18.2" cy="374.0" r="1.8"/><circle cx="18.2" cy="364.3" r="1.8"/><circle cx="18.2" cy="325.2" r="1.8"/><circle cx="18.2" cy="320.3" r="1.8"/><circle cx="18.2" cy="305.6" r="1.8"/><circle cx="18.2" cy="300.8" r="1.8"/><circle cx="18.2" cy="286.1" r="1.8"/><circle cx="18.2" cy="266.6" r="1.8"/><circle cx="23.5" cy="413.1" r="1.8"/><circle cx="23.5" cy="374.0" r="1.8"/><circle cx="23.5" cy="364.3" r="1.8"/><circle cx="23.5" cy="359.4" r="1.8"/><circle cx="23.5" cy="339.8" r="1.8"/><circle cx="28.7" cy="413.1" r="1.8"/><circle cx="28.7" cy="398.4" r="1.8"/><circle cx="28.7" cy="378.9" r="1.8"/><circle cx="28.7" cy="344.7" r="1.8"/><circle cx="28.7" cy="339.8" r="1.8"/><circle cx="28.7" cy="335.0" r="1.8"/><circle cx="28.7" cy="315.4" r="1.8"/><circle cx="28.7" cy="295.9" r="1.8"/><circle cx="28.7" cy="286.1" r="1.8"/><circle cx="33.9" cy="335.0" r="1.8"/><circle cx="33.9" cy="310.5" r="1.8"/><circle cx="33.9" cy="295.9" r="1.8"/><circle cx="33.9" cy="286.1" r="1.8"/><circle cx="39.1" cy="418.0" r="1.8"/><circle cx="39.1" cy="374.0" r="1.8"/><circle cx="39.1" cy="359.4" r="1.8"/><circle cx="39.1" cy="354.5" r="1.8"/><circle cx="39.1" cy="330.1" r="1.8"/><circle cx="39.1" cy="320.3" r="1.8"/><circle cx="39.1" cy="295.9" r="1.8"/><circle cx="39.1" cy="286.1" r="1.8"/><circle cx="39.1" cy="281.2" r="1.8"/><circle cx="39.1" cy="251.9" r="1.8"/><circle cx="39.1" cy="247.0" r="1.8"/><circle cx="39.1" cy="242.2" r="1.8"/><circle cx="39.1" cy="237.3" r="1.8"/><circle cx="39.1" cy="232.4" r="1.8"/><circle cx="39.1" cy="227.5" r="1.8"/><circle cx="39.1" cy="217.7" r="1.8"/><circle cx="39.1" cy="212.9" r="1.8"/><circle cx="39.1" cy="198.2" r="1.8"/><circle cx="39.1" cy="193.3" r="1.8"/><circle cx="39.1" cy="188.4" r="1.8"/><circle cx="39.1" cy="178.7" r="1.8"/><circle cx="39.1" cy="168.9" r="1.8"/><circle cx="39.1" cy="164.0" r="1.8"/><circle cx="39.1" cy="159.1" r="1.8"/><circle cx="39.1" cy="154.2" r="1.8"/><circle cx="39.1" cy="149.4" r="1.8"/><circle cx="39.1" cy="144.5" r="1.8"/><circle cx="39.1" cy="139.6" r="1.8"/><circle cx="44.3" cy="408.2" r="1.8"/><circle cx="44.3" cy="359.4" r="1.8"/><circle cx="44.3" cy="354.5" r="1.8"/><circle cx="44.3" cy="339.8" r="1.8"/><circle cx="44.3" cy="335.0" r="1.8"/><circle cx="44.3" cy="291.0" r="1.8"/><circle cx="44.3" cy="276.3" r="1.8"/><circle cx="44.3" cy="271.5" r="1.8"/><circle cx="44.3" cy="256.8" r="1.8"/><circle cx="44.3" cy="232.4" r="1.8"/><circle cx="44.3" cy="222.6" r="1.8"/><circle cx="44.3" cy="198.2" r="1.8"/><circle cx="44.3" cy="178.7" r="1.8"/><circle cx="49.5" cy="398.4" r="1.8"/><circle cx="49.5" cy="374.0" r="1.8"/><circle cx="49.5" cy="364.3" r="1.8"/><circle cx="49.5" cy="354.5" r="1.8"/><circle cx="49.5" cy="339.8" r="1.8"/><circle cx="49.5" cy="335.0" r="1.8"/><circle cx="49.5" cy="295.9" r="1.8"/><circle cx="49.5" cy="291.0" r="1.8"/><circle cx="49.5" cy="281.2" r="1.8"/><circle cx="49.5" cy="251.9" r="1.8"/><circle cx="49.5" cy="247.0" r="1.8"/><circle cx="49.5" cy="232.4" r="1.8"/><circle cx="49.5" cy="217.7" r="1.8"/><circle cx="49.5" cy="208.0" r="1.8"/><circle cx="49.5" cy="203.1" r="1.8"/><circle cx="49.5" cy="198.2" r="1.8"/><circle cx="54.7" cy="413.1" r="1.8"/><circle cx="54.7" cy="374.0" r="1.8"/><circle cx="54.7" cy="339.8" r="1.8"/><circle cx="54.7" cy="315.4" r="1.8"/><circle cx="54.7" cy="310.5" r="1.8"/><circle cx="54.7" cy="295.9" r="1.8"/><circle cx="54.7" cy="286.1" r="1.8"/><circle cx="54.7" cy="281.2" r="1.8"/><circle cx="54.7" cy="276.3" r="1.8"/><circle cx="54.7" cy="266.6" r="1.8"/><circle cx="54.7" cy="261.7" r="1.8"/><circle cx="54.7" cy="251.9" r="1.8"/><circle cx="54.7" cy="242.2" r="1.8"/><circle cx="54.7" cy="237.3" r="1.8"/><circle cx="54.7" cy="232.4" r="1.8"/><circle cx="54.7" cy="227.5" r="1.8"/><circle cx="54.7" cy="222.6" r="1.8"/><circle cx="54.7" cy="217.7" r="1.8"/><circle cx="59.9" cy="330.1" r="1.8"/><circle cx="59.9" cy="315.4" r="1.8"/><circle cx="59.9" cy="310.5" r="1.8"/><circle cx="59.9" cy="300.8" r="1.8"/><circle cx="59.9" cy="295.9" r="1.8"/><circle cx="59.9" cy="276.3" r="1.8"/><circle cx="59.9" cy="271.5" r="1.8"/><circle cx="59.9" cy="261.7" r="1.8"/><circle cx="59.9" cy="256.8" r="1.8"/><circle cx="59.9" cy="237.3" r="1.8"/><circle cx="59.9" cy="232.4" r="1.8"/><circle cx="59.9" cy="222.6" r="1.8"/><circle cx="59.9" cy="212.9" r="1.8"/><circle cx="59.9" cy="208.0" r="1.8"/><circle cx="59.9" cy="203.1" r="1.8"/><circle cx="59.9" cy="198.2" r="1.8"/><circle cx="59.9" cy="188.4" r="1.8"/><circle cx="65.1" cy="388.7" r="1.8"/><circle cx="65.1" cy="383.8" r="1.8"/><circle cx="65.1" cy="339.8" r="1.8"/><circle cx="65.1" cy="325.2" r="1.8"/><circle cx="65.1" cy="305.6" r="1.8"/><circle cx="65.1" cy="300.8" r="1.8"/><circle cx="65.1" cy="291.0" r="1.8"/><circle cx="65.1" cy="261.7" r="1.8"/><circle cx="65.1" cy="237.3" r="1.8"/><circle cx="65.1" cy="212.9" r="1.8"/><circle cx="70.4" cy="398.4" r="1.8"/><circle cx="70.4" cy="383.8" r="1.8"/><circle cx="70.4" cy="300.8" r="1.8"/><circle cx="70.4" cy="286.1" r="1.8"/><circle cx="70.4" cy="276.3" r="1.8"/><circle cx="70.4" cy="271.5" r="1.8"/><circle cx="70.4" cy="266.6" r="1.8"/><circle cx="70.4" cy="261.7" r="1.8"/><circle cx="70.4" cy="256.8" r="1.8"/><circle cx="70.4" cy="212.9" r="1.8"/><circle cx="70.4" cy="198.2" r="1.8"/><circle cx="70.4" cy="188.4" r="1.8"/><circle cx="70.4" cy="183.5" r="1.8"/><circle cx="70.4" cy="178.7" r="1.8"/><circle cx="70.4" cy="173.8" r="1.8"/><circle cx="70.4" cy="164.0" r="1.8"/><circle cx="70.4" cy="154.2" r="1.8"/><circle cx="70.4" cy="149.4" r="1.8"/><circle cx="70.4" cy="144.5" r="1.8"/><circle cx="70.4" cy="139.6" r="1.8"/><circle cx="70.4" cy="134.7" r="1.8"/><circle cx="70.4" cy="129.8" r="1.8"/><circle cx="70.4" cy="124.9" r="1.8"/><circle cx="70.4" cy="120.1" r="1.8"/><circle cx="70.4" cy="115.2" r="1.8"/><circle cx="75.6" cy="413.1" r="1.8"/><circle cx="75.6" cy="403.3" r="1.8"/><circle cx="75.6" cy="374.0" r="1.8"/><circle cx="75.6" cy="359.4" r="1.8"/><circle cx="75.6" cy="335.0" r="1.8"/><circle cx="75.6" cy="295.9" r="1.8"/><circle cx="75.6" cy="281.2" r="1.8"/><circle cx="75.6" cy="276.3" r="1.8"/><circle cx="75.6" cy="266.6" r="1.8"/><circle cx="75.6" cy="247.0" r="1.8"/><circle cx="75.6" cy="237.3" r="1.8"/><circle cx="75.6" cy="208.0" r="1.8"/><circle cx="75.6" cy="203.1" r="1.8"/><circle cx="75.6" cy="183.5" r="1.8"/><circle cx="75.6" cy="178.7" r="1.8"/><circle cx="80.8" cy="383.8" r="1.8"/><circle cx="80.8" cy="378.9" r="1.8"/><circle cx="80.8" cy="359.4" r="1.8"/><circle cx="80.8" cy="349.6" r="1.8"/><circle cx="80.8" cy="344.7" r="1.8"/><circle cx="80.8" cy="315.4" r="1.8"/><circle cx="80.8" cy="295.9" r="1.8"/><circle cx="80.8" cy="291.0" r="1.8"/><circle cx="80.8" cy="271.5" r="1.8"/><circle cx="80.8" cy="261.7" r="1.8"/><circle cx="80.8" cy="251.9" r="1.8"/><circle cx="80.8" cy="237.3" r="1.8"/><circle cx="80.8" cy="217.7" r="1.8"/><circle cx="80.8" cy="212.9" r="1.8"/><circle cx="80.8" cy="208.0" r="1.8"/><circle cx="80.8" cy="198.2" r="1.8"/><circle cx="80.8" cy="193.3" r="1.8"/><circle cx="80.8" cy="183.5" r="1.8"/><circle cx="80.8" cy="173.8" r="1.8"/><circle cx="80.8" cy="164.0" r="1.8"/><circle cx="80.8" cy="159.1" r="1.8"/><circle cx="80.8" cy="154.2" r="1.8"/><circle cx="80.8" cy="149.4" r="1.8"/><circle cx="80.8" cy="144.5" r="1.8"/><circle cx="80.8" cy="139.6" r="1.8"/><circle cx="80.8" cy="134.7" r="1.8"/><circle cx="80.8" cy="129.8" r="1.8"/><circle cx="80.8" cy="124.9" r="1.8"/><circle cx="80.8" cy="120.1" r="1.8"/><circle cx="80.8" cy="115.2" r="1.8"/><circle cx="80.8" cy="110.3" r="1.8"/><circle cx="80.8" cy="105.4" r="1.8"/><circle cx="86.0" cy="330.1" r="1.8"/><circle cx="86.0" cy="300.8" r="1.8"/><circle cx="86.0" cy="286.1" r="1.8"/><circle cx="86.0" cy="281.2" r="1.8"/><circle cx="86.0" cy="247.0" r="1.8"/><circle cx="86.0" cy="232.4" r="1.8"/><circle cx="86.0" cy="227.5" r="1.8"/><circle cx="86.0" cy="212.9" r="1.8"/><circle cx="86.0" cy="203.1" r="1.8"/><circle cx="86.0" cy="188.4" r="1.8"/><circle cx="86.0" cy="183.5" r="1.8"/><circle cx="86.0" cy="164.0" r="1.8"/><circle cx="86.0" cy="159.1" r="1.8"/><circle cx="91.2" cy="320.3" r="1.8"/><circle cx="91.2" cy="300.8" r="1.8"/><circle cx="91.2" cy="295.9" r="1.8"/><circle cx="91.2" cy="286.1" r="1.8"/><circle cx="91.2" cy="276.3" r="1.8"/><circle cx="91.2" cy="271.5" r="1.8"/><circle cx="91.2" cy="266.6" r="1.8"/><circle cx="96.4" cy="393.6" r="1.8"/><circle cx="96.4" cy="388.7" r="1.8"/><circle cx="96.4" cy="354.5" r="1.8"/><circle cx="96.4" cy="344.7" r="1.8"/><circle cx="96.4" cy="315.4" r="1.8"/><circle cx="96.4" cy="281.2" r="1.8"/><circle cx="96.4" cy="276.3" r="1.8"/><circle cx="96.4" cy="261.7" r="1.8"/><circle cx="96.4" cy="247.0" r="1.8"/><circle cx="101.6" cy="403.3" r="1.8"/><circle cx="101.6" cy="369.1" r="1.8"/><circle cx="101.6" cy="325.2" r="1.8"/><circle cx="101.6" cy="315.4" r="1.8"/><circle cx="101.6" cy="295.9" r="1.8"/><circle cx="101.6" cy="291.0" r="1.8"/><circle cx="101.6" cy="281.2" r="1.8"/><circle cx="101.6" cy="251.9" r="1.8"/><circle cx="101.6" cy="242.2" r="1.8"/><circle cx="106.8" cy="369.1" r="1.8"/><circle cx="106.8" cy="339.8" r="1.8"/><circle cx="106.8" cy="310.5" r="1.8"/><circle cx="106.8" cy="295.9" r="1.8"/><circle cx="106.8" cy="281.2" r="1.8"/><circle cx="112.0" cy="325.2" r="1.8"/><circle cx="112.0" cy="320.3" r="1.8"/><circle cx="112.0" cy="315.4" r="1.8"/><circle cx="112.0" cy="300.8" r="1.8"/><circle cx="117.2" cy="378.9" r="1.8"/><circle cx="122.5" cy="413.1" r="1.8"/><circle cx="122.5" cy="378.9" r="1.8"/><circle cx="122.5" cy="359.4" r="1.8"/><circle cx="122.5" cy="330.1" r="1.8"/><circle cx="122.5" cy="300.8" r="1.8"/><circle cx="127.7" cy="383.8" r="1.8"/><circle cx="127.7" cy="344.7" r="1.8"/><circle cx="127.7" cy="335.0" r="1.8"/><circle cx="132.9" cy="378.9" r="1.8"/><circle cx="132.9" cy="344.7" r="1.8"/><circle cx="132.9" cy="335.0" r="1.8"/><circle cx="132.9" cy="330.1" r="1.8"/><circle cx="132.9" cy="325.2" r="1.8"/><circle cx="132.9" cy="305.6" r="1.8"/><circle cx="138.1" cy="408.2" r="1.8"/><circle cx="138.1" cy="349.6" r="1.8"/><circle cx="138.1" cy="339.8" r="1.8"/><circle cx="148.5" cy="398.4" r="1.8"/><circle cx="153.7" cy="393.6" r="1.8"/><circle cx="158.9" cy="398.4" r="1.8"/></g>
<rect x="118" y="200" width="70" height="220" fill="url(#fadeRight)" opacity="0.6"/>
<text x="-1.3" y="74.4" font-size="10" fill="#ff6a3c" font-weight="bold" textLength="32.8" lengthAdjust="spacingAndGlyphs">Female</text>
<text x="35.3" y="74.4" font-size="10" fill="#5a5a66" textLength="68" lengthAdjust="spacingAndGlyphs">Runners by Age</text>
</g>
<g id="venn">
<circle cx="336.7" cy="191" r="122.6" fill="#3e3a85"/>
<circle cx="228.9" cy="93.8" r="87.2" fill="#de6c48"/>
<circle cx="195.7" cy="191" r="87.4" fill="#faf550"/>
<circle cx="234" cy="289.5" r="87" fill="#9eea4d"/>
<circle cx="325.2" cy="336" r="87" fill="#46fadb"/>
<g clip-path="url(#c_seo)"><circle cx="228.9" cy="93.8" r="87.2" fill="#eeb030"/></g>
<g clip-path="url(#c_web)"><circle cx="228.9" cy="93.8" r="87.2" fill="#8f3e52"/></g>
<g clip-path="url(#c_web)"><circle cx="195.7" cy="191" r="87.4" fill="#a4a055"/></g>
<g clip-path="url(#c_soc)"><circle cx="195.7" cy="191" r="87.4" fill="#c4ee36"/></g>
<g clip-path="url(#c_web)"><circle cx="234" cy="289.5" r="87" fill="#639653"/></g>
<g clip-path="url(#c_web)"><circle cx="325.2" cy="336" r="87" fill="#239fa9"/></g>
<g clip-path="url(#c_em)"><circle cx="234" cy="289.5" r="87" fill="#5ef193"/></g>
<g clip-path="url(#c_web)"><g clip-path="url(#c_seo)"><circle cx="228.9" cy="93.8" r="87.2" fill="#ad854a"/></g></g>
<g clip-path="url(#c_web)"><g clip-path="url(#c_soc)"><circle cx="195.7" cy="191" r="87.4" fill="#94b04c"/></g></g>
<g clip-path="url(#c_em)"><g clip-path="url(#c_web)"><circle cx="234" cy="289.5" r="87" fill="#4eb18a"/></g></g>
<text transform="translate(226 57) scale(0.82 1)" x="0" y="3.5" font-size="10.2" fill="#fff" text-anchor="middle">PPC</text>
<text transform="translate(282 114) scale(0.82 1)" x="0" y="3.5" font-size="10.2" fill="#fff" text-anchor="middle">Landing pages</text>
<text transform="translate(191.4 136.2) scale(0.82 1)" x="0" y="-1.8" font-size="10.2" fill="#5a3a10" text-anchor="middle">Keyword</text>
<text transform="translate(191.4 136.2) scale(0.82 1)" x="0" y="8.8" font-size="10.2" fill="#5a3a10" text-anchor="middle">research</text>
<text transform="translate(244.5 155.5) scale(0.82 1)" x="0" y="3.5" font-size="10.2" fill="#fff" text-anchor="middle">CRO</text>
<text transform="translate(149 193) scale(0.82 1)" x="0" y="3.5" font-size="10.2" fill="#4a4a20" text-anchor="middle">SEO</text>
<text transform="translate(266.7 190) scale(0.82 1)" x="0" y="-6.7" font-size="10.2" fill="#3a3a1a" text-anchor="middle">Clean</text>
<text transform="translate(266.7 190) scale(0.82 1)" x="0" y="3.5" font-size="10.2" fill="#3a3a1a" text-anchor="middle">code</text>
<text transform="translate(266.7 190) scale(0.82 1)" x="0" y="13.7" font-size="10.2" fill="#3a3a1a" text-anchor="middle">content</text>
<text transform="translate(375 177) scale(0.82 1)" x="0" y="3.5" font-size="10.2" fill="#fff" text-anchor="middle">Website</text>
<text transform="translate(244.5 227.8) scale(0.82 1)" x="0" y="-1.8" font-size="10.2" fill="#2f3a1a" text-anchor="middle">Sharable</text>
<text transform="translate(244.5 227.8) scale(0.82 1)" x="0" y="8.8" font-size="10.2" fill="#2f3a1a" text-anchor="middle">content</text>
<text transform="translate(192.9 249) scale(0.82 1)" x="0" y="-1.8" font-size="10.2" fill="#3f4a1a" text-anchor="middle">Authorship</text>
<text transform="translate(192.9 249) scale(0.82 1)" x="0" y="8.8" font-size="10.2" fill="#3f4a1a" text-anchor="middle">influencers</text>
<text transform="translate(263 259) rotate(-45) scale(0.82 1)" x="0" y="3.5" font-size="10.2" fill="#fff" text-anchor="middle">Social links</text>
<text transform="translate(295.5 282.2) scale(0.82 1)" x="0" y="-1.8" font-size="10.2" fill="#1f3a30" text-anchor="middle">News and</text>
<text transform="translate(295.5 282.2) scale(0.82 1)" x="0" y="8.8" font-size="10.2" fill="#1f3a30" text-anchor="middle">updates</text>
<text transform="translate(350 285) scale(0.82 1)" x="0" y="3.5" font-size="10.2" fill="#fff" text-anchor="middle">Upselling</text>
<text transform="translate(198.5 319.5) scale(0.82 1)" x="0" y="3.5" font-size="10.2" fill="#2f4a1a" text-anchor="middle">Social</text>
<text transform="translate(269.3 332.5) scale(0.82 1)" x="0" y="-1.8" font-size="10.2" fill="#1f4a30" text-anchor="middle">Customer</text>
<text transform="translate(269.3 332.5) scale(0.82 1)" x="0" y="8.8" font-size="10.2" fill="#1f4a30" text-anchor="middle">service</text>
<text transform="translate(348 365) scale(0.82 1)" x="0" y="3.5" font-size="10.2" fill="#1f4a40" text-anchor="middle">Email</text>
</g>
</svg></body></html>
